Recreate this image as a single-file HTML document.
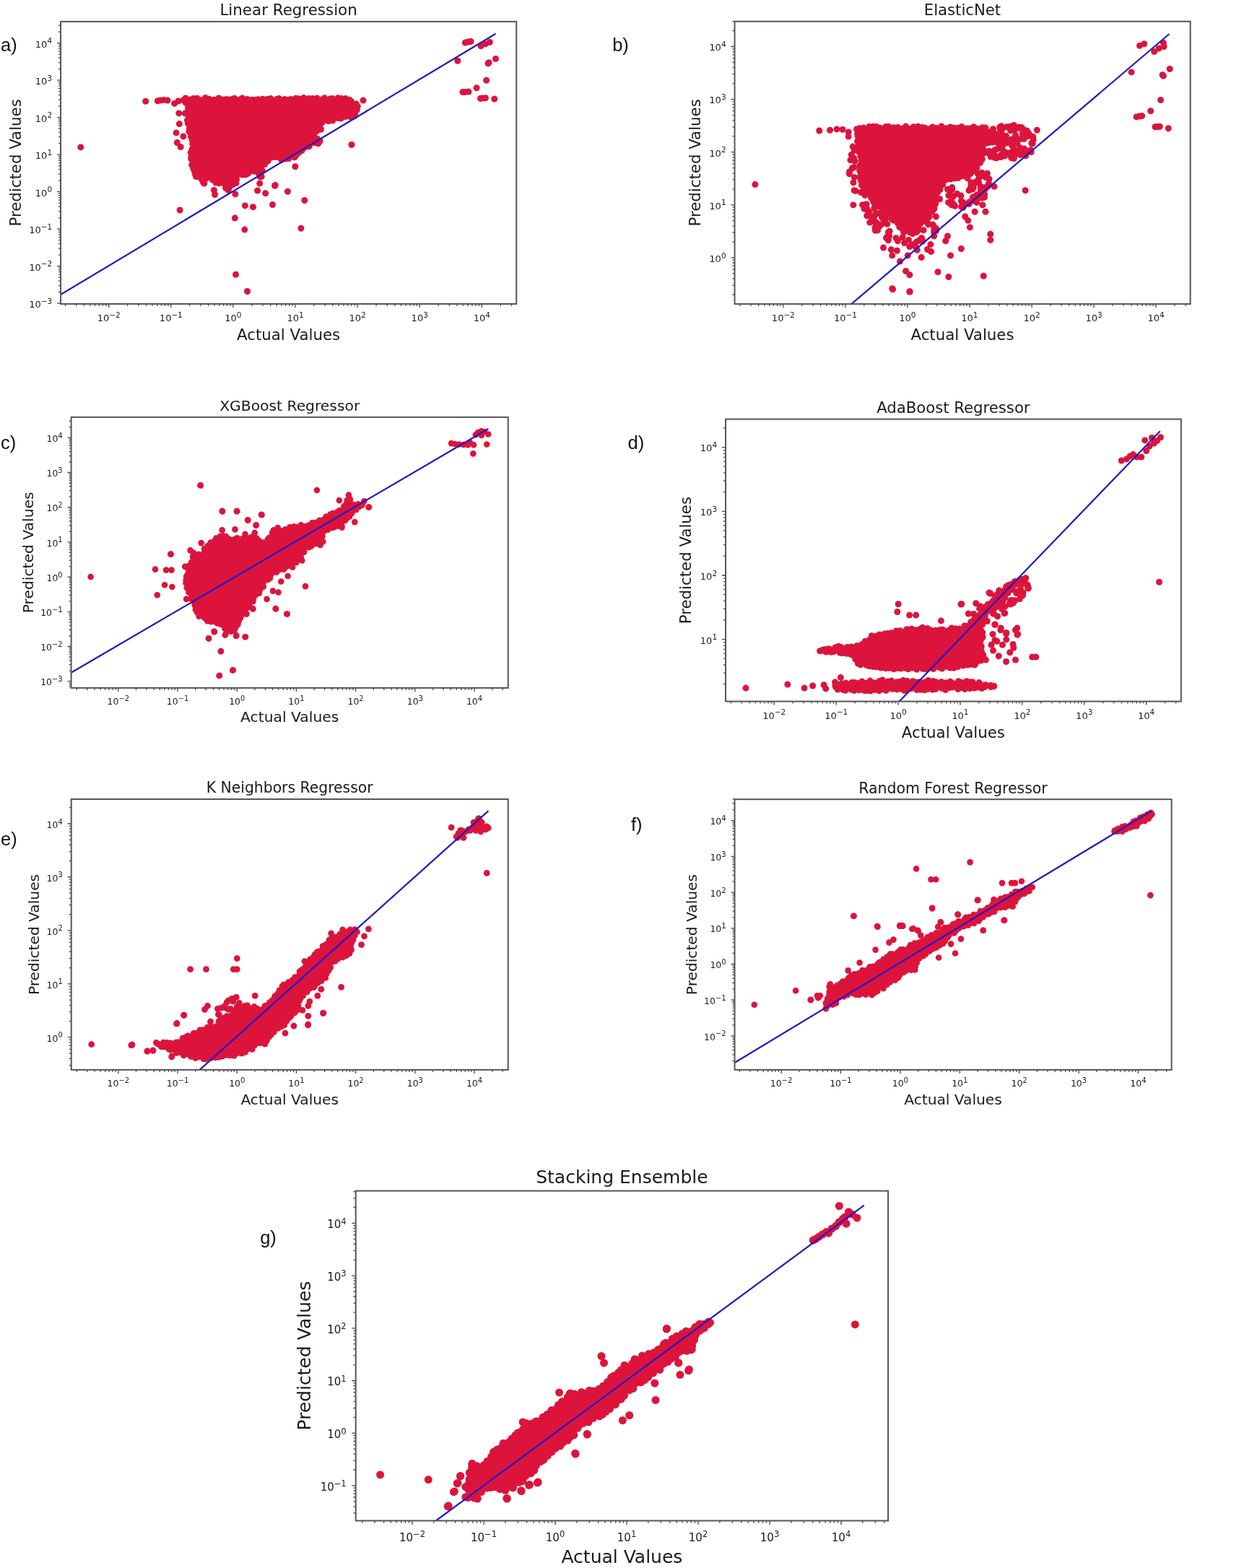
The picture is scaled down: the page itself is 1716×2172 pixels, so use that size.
<!DOCTYPE html>
<html><head><meta charset="utf-8"><style>html,body{margin:0;padding:0;background:#fff;}svg{display:block;}</style></head>
<body>
<svg width="1716" height="2172" viewBox="0 0 1716 2172">
<rect width="1716" height="2172" fill="#fff"/>
<g font-family="'DejaVu Sans', 'Liberation Sans', sans-serif" font-size="13.0" fill="#1a1a1a"><clipPath id="ca"><rect x="84" y="29.9" width="631.2" height="391.1"/></clipPath><g clip-path="url(#ca)" fill="#dc143c"><polygon points="253.7,137.8 258,144 258.2,144.2 258.3,144.5 258.4,144.8 258.5,145 258.6,145.3 258.6,145.6 260.9,181.4 261,181.6 261,181.7 265.7,199.3 265.8,199.6 265.8,199.9 265.8,200.2 265.8,200.5 263.5,219.5 263.5,219.6 263.5,219.7 264.6,230.7 264.7,230.8 264.7,230.8 264.7,230.8 264.7,230.9 269.6,240.6 269.6,240.7 269.6,240.7 269.7,240.8 281.9,254.2 282,254.3 282,254.3 282,254.3 282.1,254.3 282.1,254.3 282.1,254.3 282.1,254.3 282.2,254.3 282.2,254.3 282.2,254.3 282.3,254.3 282.3,254.3 282.3,254.3 282.4,254.3 282.4,254.3 282.4,254.3 282.5,254.2 282.5,254.2 282.5,254.2 282.5,254.2 282.6,254.1 286.3,244.3 286.5,244 286.6,243.7 286.8,243.5 287,243.3 287.2,243 287.5,242.8 287.7,242.7 288,242.5 288.3,242.4 288.6,242.4 288.9,242.3 289.2,242.3 289.5,242.3 289.8,242.3 290.1,242.4 290.4,242.5 290.7,242.6 291,242.8 291.2,243 291.5,243.2 291.7,243.4 291.9,243.6 297.9,252.3 297.9,252.4 298,252.4 298,252.5 298,252.5 298,252.5 298.1,252.5 298.2,252.6 309.8,256.3 310.1,256.4 310.3,256.5 310.6,256.7 310.9,256.9 311.1,257.1 311.3,257.3 311.5,257.6 311.6,257.9 311.8,258.1 311.9,258.4 312.6,261.4 312.7,261.5 312.7,261.6 312.7,261.6 312.7,261.6 312.7,261.6 312.8,261.7 312.8,261.7 312.8,261.7 312.9,261.7 312.9,261.7 312.9,261.7 313,261.7 313,261.7 313,261.7 313.1,261.7 313.1,261.7 313.1,261.7 313.2,261.7 313.3,261.7 326.6,253.1 326.7,253.1 326.7,253 326.8,253 326.8,253 326.8,253 326.8,252.9 326.8,252.9 326.8,252.9 326.8,252.8 326.8,252.8 326.8,252.7 326,244.3 325.9,244 326,243.7 326,243.4 326.1,243.1 326.2,242.8 326.3,242.5 326.5,242.3 326.6,242 326.9,241.8 327.1,241.6 327.3,241.4 327.6,241.2 327.9,241.1 328.2,241 328.5,240.9 328.8,240.9 329.1,240.8 339.9,240.8 340,240.8 340.1,240.8 340.1,240.8 340.1,240.8 340.2,240.8 347.9,236.5 348.1,236.4 348.4,236.2 348.7,236.2 349.1,236.1 349.4,236.1 349.7,236.1 350,236.2 350.3,236.2 350.6,236.3 350.9,236.5 351.2,236.6 351.4,236.8 361.8,245.6 361.9,245.7 361.9,245.7 362,245.7 362,245.7 362,245.7 362.1,245.7 362.1,245.7 362.1,245.7 362.2,245.7 362.2,245.7 362.2,245.7 362.3,245.7 362.3,245.7 362.3,245.7 362.3,245.6 362.4,245.6 362.4,245.6 362.4,245.6 362.4,245.5 362.4,245.5 362.4,245.5 362.4,245.4 362.5,245.3 362.5,232 362.5,231.7 362.5,231.4 362.6,231.1 362.7,230.8 362.9,230.5 363,230.2 363.2,229.9 371.6,220.6 371.8,220.4 372,220.2 372.3,220 372.5,219.9 372.8,219.8 373.1,219.7 383.4,216.7 383.7,216.6 384,216.6 384.3,216.6 384.6,216.6 384.9,216.7 385.2,216.7 385.5,216.9 385.8,217 386.1,217.2 393.2,222.3 393.3,222.4 393.4,222.4 393.4,222.4 393.4,222.4 393.5,222.4 393.5,222.4 393.5,222.4 393.6,222.4 393.6,222.4 393.7,222.4 410.7,216.3 410.9,216.2 410.9,216.2 410.9,216.2 410.9,216.1 411,216.1 416.7,209.2 416.9,209 417.2,208.8 417.4,208.6 417.7,208.5 432.6,200.4 432.9,200.3 433.2,200.2 433.5,200.1 443.9,197.9 444,197.8 444,197.8 444.1,197.8 444.1,197.8 444.1,197.8 444.2,197.7 444.2,197.7 444.2,197.7 444.2,197.7 444.2,197.6 444.2,197.6 444.2,197.6 444.2,197.5 444.2,197.5 444.2,197.5 444.2,197.4 444.2,197.4 444.2,197.4 444.2,197.3 444.1,197.2 436.9,187.2 436.8,187 436.6,186.7 436.5,186.4 436.4,186.1 436.4,185.8 436.3,185.5 436.3,185.2 436.4,184.9 436.5,184.6 436.6,184.3 436.7,184 436.8,183.7 437,183.4 437.2,183.2 437.4,183 437.7,182.8 438,182.6 438.2,182.5 442.8,180.6 442.9,180.5 442.9,180.5 442.9,180.5 442.9,180.4 443,180.4 443,180.4 443,180.4 443,180.3 443,180.3 443,180.3 443.1,180.2 444,171.7 444,171.3 444.1,171 444.2,170.7 444.4,170.5 444.5,170.2 444.7,169.9 445,169.7 445.2,169.5 445.5,169.3 445.7,169.2 446,169 446.3,168.9 453.7,167.1 454,167 470,164.4 470.1,164.3 488.2,162.2 488.3,162.1 488.3,162.1 488.3,162.1 488.4,162.1 488.4,162.1 488.4,162.1 488.5,162 493.3,157.2 493.4,157.1 493.4,157.1 493.4,157 498.3,148.5 498.3,148.4 498.3,148.4 498.3,148.4 498.3,148.3 498.3,148.3 498.3,148.3 498.3,148.2 498.3,148.2 498.3,148.2 498.3,148.1 498.3,148.1 498.3,148.1 498.3,148.1 498.2,148 498.1,148 488.2,140.7 488.2,140.7 483.6,137.3 483.5,137.2 483.4,137.2 483.4,137.2 483.4,137.2 483.3,137.2 483.2,137.1 400,136.7 330,136.7 254,137.1 253.9,137.2 253.8,137.2 253.8,137.2 253.8,137.2 253.7,137.2 253.7,137.2 253.7,137.2 253.7,137.3 253.6,137.3 253.6,137.3 253.6,137.3 253.6,137.4 253.6,137.4 253.6,137.4 253.6,137.5 253.6,137.5 253.6,137.5 253.6,137.6 253.6,137.6 253.6,137.6 253.6,137.7" stroke="#dc143c" stroke-width="2" stroke-linejoin="round"/><circle cx="253.8" cy="138.7" r="4.5"/><circle cx="257.2" cy="142.2" r="4.5"/><circle cx="260.5" cy="149" r="4.5"/><circle cx="259.2" cy="154.9" r="4.5"/><circle cx="261.2" cy="160.4" r="4.5"/><circle cx="259.4" cy="166.6" r="4.5"/><circle cx="260.4" cy="171.3" r="4.5"/><circle cx="262.4" cy="177.8" r="4.5"/><circle cx="261.9" cy="182.6" r="4.5"/><circle cx="264.4" cy="189" r="4.5"/><circle cx="266.2" cy="194" r="4.5"/><circle cx="266.8" cy="199.2" r="4.5"/><circle cx="266" cy="206.6" r="4.5"/><circle cx="264.2" cy="211.3" r="4.5"/><circle cx="264.7" cy="218.2" r="4.5"/><circle cx="264.9" cy="220.4" r="4.5"/><circle cx="265.7" cy="228.5" r="4.5"/><circle cx="267.8" cy="233.5" r="4.5"/><circle cx="269.5" cy="237.6" r="4.5"/><circle cx="271.5" cy="244.5" r="4.5"/><circle cx="276.4" cy="245.4" r="4.5"/><circle cx="279.7" cy="249.1" r="4.5"/><circle cx="281.3" cy="252.2" r="4.5"/><circle cx="286" cy="247.1" r="4.5"/><circle cx="287.7" cy="243.9" r="4.5"/><circle cx="292.8" cy="245.4" r="4.5"/><circle cx="294.3" cy="249" r="4.5"/><circle cx="299" cy="253" r="4.5"/><circle cx="303.7" cy="253.8" r="4.5"/><circle cx="311.7" cy="256.1" r="4.5"/><circle cx="312.6" cy="260.6" r="4.5"/><circle cx="318.4" cy="258.8" r="4.5"/><circle cx="322.7" cy="255.5" r="4.5"/><circle cx="324.3" cy="253.1" r="4.5"/><circle cx="327.6" cy="248.5" r="4.5"/><circle cx="326.3" cy="240.8" r="4.5"/><circle cx="330.6" cy="241.3" r="4.5"/><circle cx="336" cy="242.1" r="4.5"/><circle cx="343.5" cy="240.3" r="4.5"/><circle cx="346.3" cy="237.3" r="4.5"/><circle cx="352.3" cy="237.3" r="4.5"/><circle cx="358.3" cy="240.4" r="4.5"/><circle cx="362.2" cy="244.6" r="4.5"/><circle cx="360.7" cy="242.1" r="4.5"/><circle cx="363.3" cy="236.1" r="4.5"/><circle cx="362.8" cy="228.3" r="4.5"/><circle cx="366.7" cy="227.5" r="4.5"/><circle cx="371.2" cy="222.9" r="4.5"/><circle cx="376.3" cy="217.8" r="4.5"/><circle cx="381" cy="217.5" r="4.5"/><circle cx="386.7" cy="218.1" r="4.5"/><circle cx="390" cy="221.4" r="4.5"/><circle cx="395.9" cy="219.9" r="4.5"/><circle cx="400.1" cy="219.4" r="4.5"/><circle cx="408" cy="217.8" r="4.5"/><circle cx="409.9" cy="215.2" r="4.5"/><circle cx="414" cy="211.4" r="4.5"/><circle cx="418.2" cy="208.5" r="4.5"/><circle cx="422.2" cy="204" r="4.5"/><circle cx="428.2" cy="202.9" r="4.5"/><circle cx="435.6" cy="197.8" r="4.5"/><circle cx="440.7" cy="198.9" r="4.5"/><circle cx="443.2" cy="195.3" r="4.5"/><circle cx="439.4" cy="192.3" r="4.5"/><circle cx="434.9" cy="187" r="4.5"/><circle cx="438.7" cy="181.6" r="4.5"/><circle cx="444.5" cy="179.2" r="4.5"/><circle cx="443" cy="174.3" r="4.5"/><circle cx="446.3" cy="169.5" r="4.5"/><circle cx="450.6" cy="166" r="4.5"/><circle cx="454.9" cy="167.7" r="4.5"/><circle cx="460.8" cy="167" r="4.5"/><circle cx="467.5" cy="163.4" r="4.5"/><circle cx="472.2" cy="164" r="4.5"/><circle cx="478.2" cy="161.5" r="4.5"/><circle cx="485.1" cy="161.9" r="4.5"/><circle cx="491" cy="160.7" r="4.5"/><circle cx="491.7" cy="157.4" r="4.5"/><circle cx="494.2" cy="152.2" r="4.5"/><circle cx="495.2" cy="147.5" r="4.5"/><circle cx="493.3" cy="144.1" r="4.5"/><circle cx="486.5" cy="140.4" r="4.5"/><circle cx="484.3" cy="138.6" r="4.5"/><circle cx="478.8" cy="136.6" r="4.5"/><circle cx="472.8" cy="136.6" r="4.5"/><circle cx="468.1" cy="135.8" r="4.5"/><circle cx="460.1" cy="136.5" r="4.5"/><circle cx="456.8" cy="137.1" r="4.5"/><circle cx="449.5" cy="135.8" r="4.5"/><circle cx="445.6" cy="138.2" r="4.5"/><circle cx="439.1" cy="136.1" r="4.5"/><circle cx="432.8" cy="136.6" r="4.5"/><circle cx="427.7" cy="136.4" r="4.5"/><circle cx="420.7" cy="135.6" r="4.5"/><circle cx="414.1" cy="136.8" r="4.5"/><circle cx="409.6" cy="136.2" r="4.5"/><circle cx="402.8" cy="137.5" r="4.5"/><circle cx="398.1" cy="138.6" r="4.5"/><circle cx="394.3" cy="137.5" r="4.5"/><circle cx="386.3" cy="136.4" r="4.5"/><circle cx="383" cy="137.6" r="4.5"/><circle cx="374.8" cy="136.5" r="4.5"/><circle cx="369.5" cy="137.4" r="4.5"/><circle cx="363.5" cy="137.3" r="4.5"/><circle cx="357.8" cy="137.7" r="4.5"/><circle cx="353.1" cy="138.5" r="4.5"/><circle cx="349.3" cy="138.2" r="4.5"/><circle cx="342.4" cy="137.5" r="4.5"/><circle cx="335.6" cy="136" r="4.5"/><circle cx="331.9" cy="137.9" r="4.5"/><circle cx="324.6" cy="136.3" r="4.5"/><circle cx="320" cy="137.8" r="4.5"/><circle cx="313.6" cy="137.4" r="4.5"/><circle cx="309.4" cy="138" r="4.5"/><circle cx="303.1" cy="136" r="4.5"/><circle cx="296.2" cy="138.3" r="4.5"/><circle cx="289.5" cy="137.3" r="4.5"/><circle cx="284.5" cy="135.6" r="4.5"/><circle cx="280" cy="138.5" r="4.5"/><circle cx="273" cy="136.3" r="4.5"/><circle cx="267.7" cy="136.6" r="4.5"/><circle cx="263.2" cy="137.9" r="4.5"/><circle cx="257" cy="135.9" r="4.5"/><circle cx="201.7" cy="140.3" r="4.5"/><circle cx="218.3" cy="139.7" r="4.5"/><circle cx="222" cy="139" r="4.5"/><circle cx="226.9" cy="138.4" r="4.5"/><circle cx="232" cy="139" r="4.5"/><circle cx="241.6" cy="143.4" r="4.5"/><circle cx="247" cy="140" r="4.5"/><circle cx="247.8" cy="156.9" r="4.5"/><circle cx="256.4" cy="156.9" r="4.5"/><circle cx="248.4" cy="171.6" r="4.5"/><circle cx="244.1" cy="183.9" r="4.5"/><circle cx="253.9" cy="188.9" r="4.5"/><circle cx="245.3" cy="197.5" r="4.5"/><circle cx="250.2" cy="203.6" r="4.5"/><circle cx="270.6" cy="241.8" r="4.5"/><circle cx="282.9" cy="254.1" r="4.5"/><circle cx="298.9" cy="252.3" r="4.5"/><circle cx="296.4" cy="263.4" r="4.5"/><circle cx="297.6" cy="269.5" r="4.5"/><circle cx="313.6" cy="258.4" r="4.5"/><circle cx="316.1" cy="263.4" r="4.5"/><circle cx="327.1" cy="253.5" r="4.5"/><circle cx="325.9" cy="268.9" r="4.5"/><circle cx="340.7" cy="241.8" r="4.5"/><circle cx="360.3" cy="244.9" r="4.5"/><circle cx="359.7" cy="254.1" r="4.5"/><circle cx="356.6" cy="264" r="4.5"/><circle cx="367.7" cy="267.7" r="4.5"/><circle cx="380.6" cy="257.2" r="4.5"/><circle cx="398.4" cy="265.2" r="4.5"/><circle cx="421.8" cy="277.5" r="4.5"/><circle cx="339.4" cy="284.9" r="4.5"/><circle cx="350.5" cy="286.7" r="4.5"/><circle cx="377.5" cy="283.6" r="4.5"/><circle cx="249.1" cy="291" r="4.5"/><circle cx="325.3" cy="302.1" r="4.5"/><circle cx="338.8" cy="318.1" r="4.5"/><circle cx="416.9" cy="316.2" r="4.5"/><circle cx="326.5" cy="380.2" r="4.5"/><circle cx="342.5" cy="403.5" r="4.5"/><circle cx="111.8" cy="203.9" r="4.5"/><circle cx="503" cy="139.1" r="4.5"/><circle cx="487" cy="200.5" r="4.5"/><circle cx="408.9" cy="230.7" r="4.5"/><circle cx="381.2" cy="256.5" r="4.5"/><circle cx="648.4" cy="58" r="4.5"/><circle cx="644.3" cy="59.1" r="4.5"/><circle cx="652" cy="57.5" r="4.5"/><circle cx="666" cy="63.8" r="4.5"/><circle cx="678.3" cy="58.5" r="4.5"/><circle cx="672.4" cy="60.9" r="4.5"/><circle cx="633.8" cy="84.3" r="4.5"/><circle cx="686.5" cy="81.4" r="4.5"/><circle cx="677.1" cy="86.7" r="4.5"/><circle cx="676" cy="87.8" r="4.5"/><circle cx="673.6" cy="111.2" r="4.5"/><circle cx="660.1" cy="121.8" r="4.5"/><circle cx="640.8" cy="127.6" r="4.5"/><circle cx="649" cy="127" r="4.5"/><circle cx="644" cy="127.5" r="4.5"/><circle cx="665.4" cy="136.4" r="4.5"/><circle cx="672.4" cy="135.8" r="4.5"/><circle cx="668" cy="136" r="4.5"/><circle cx="684.7" cy="137" r="4.5"/></g><line x1="84" y1="408.1" x2="686.5" y2="46.8" stroke="#2318c4" stroke-width="2.2" clip-path="url(#ca)"/><path d="M84 420.2h-5M90.5 421v3M84 404.7h-3M105.7 421v3M84 395.6h-3M116.4 421v3M84 389.2h-3M124.8 421v3M84 384.2h-3M131.6 421v3M84 380.1h-3M137.4 421v3M84 376.7h-3M142.4 421v3M84 373.7h-3M146.8 421v3M84 371.1h-3M150.7 421v5M84 368.7h-5M176.6 421v3M84 353.2h-3M191.8 421v3M84 344.1h-3M202.5 421v3M84 337.7h-3M210.9 421v3M84 332.7h-3M217.7 421v3M84 328.6h-3M223.5 421v3M84 325.2h-3M228.5 421v3M84 322.2h-3M232.9 421v3M84 319.6h-3M236.8 421v5M84 317.2h-5M262.7 421v3M84 301.7h-3M277.9 421v3M84 292.6h-3M288.6 421v3M84 286.2h-3M297 421v3M84 281.2h-3M303.8 421v3M84 277.1h-3M309.6 421v3M84 273.7h-3M314.6 421v3M84 270.7h-3M319 421v3M84 268.1h-3M322.9 421v5M84 265.7h-5M348.8 421v3M84 250.2h-3M364 421v3M84 241.1h-3M374.7 421v3M84 234.7h-3M383.1 421v3M84 229.7h-3M389.9 421v3M84 225.6h-3M395.7 421v3M84 222.2h-3M400.7 421v3M84 219.2h-3M405.1 421v3M84 216.6h-3M409 421v5M84 214.2h-5M434.9 421v3M84 198.7h-3M450.1 421v3M84 189.6h-3M460.8 421v3M84 183.2h-3M469.2 421v3M84 178.2h-3M476 421v3M84 174.1h-3M481.8 421v3M84 170.7h-3M486.8 421v3M84 167.7h-3M491.2 421v3M84 165.1h-3M495.1 421v5M84 162.7h-5M521 421v3M84 147.2h-3M536.2 421v3M84 138.1h-3M546.9 421v3M84 131.7h-3M555.3 421v3M84 126.7h-3M562.1 421v3M84 122.6h-3M567.9 421v3M84 119.2h-3M572.9 421v3M84 116.2h-3M577.3 421v3M84 113.6h-3M581.2 421v5M84 111.2h-5M607.1 421v3M84 95.7h-3M622.3 421v3M84 86.6h-3M633 421v3M84 80.2h-3M641.4 421v3M84 75.2h-3M648.2 421v3M84 71.1h-3M654 421v3M84 67.7h-3M659 421v3M84 64.7h-3M663.4 421v3M84 62.1h-3M667.3 421v5M84 59.7h-5M693.2 421v3M84 44.2h-3M708.4 421v3M84 35.1h-3" stroke="#444" stroke-width="1.3" fill="none"/><rect x="84" y="29.9" width="631.2" height="391.1" fill="none" stroke="#555" stroke-width="2"/><text x="150.7" y="445" text-anchor="middle">10<tspan font-size="10.4" dy="-5.3">−2</tspan></text><text x="236.8" y="445" text-anchor="middle">10<tspan font-size="10.4" dy="-5.3">−1</tspan></text><text x="322.9" y="445" text-anchor="middle">10<tspan font-size="10.4" dy="-5.3">0</tspan></text><text x="409" y="445" text-anchor="middle">10<tspan font-size="10.4" dy="-5.3">1</tspan></text><text x="495.1" y="445" text-anchor="middle">10<tspan font-size="10.4" dy="-5.3">2</tspan></text><text x="581.2" y="445" text-anchor="middle">10<tspan font-size="10.4" dy="-5.3">3</tspan></text><text x="667.3" y="445" text-anchor="middle">10<tspan font-size="10.4" dy="-5.3">4</tspan></text><text x="72" y="426.1" text-anchor="end">10<tspan font-size="10.4" dy="-5.3">−3</tspan></text><text x="72" y="374.6" text-anchor="end">10<tspan font-size="10.4" dy="-5.3">−2</tspan></text><text x="72" y="323.1" text-anchor="end">10<tspan font-size="10.4" dy="-5.3">−1</tspan></text><text x="72" y="271.6" text-anchor="end">10<tspan font-size="10.4" dy="-5.3">0</tspan></text><text x="72" y="220" text-anchor="end">10<tspan font-size="10.4" dy="-5.3">1</tspan></text><text x="72" y="168.5" text-anchor="end">10<tspan font-size="10.4" dy="-5.3">2</tspan></text><text x="72" y="117" text-anchor="end">10<tspan font-size="10.4" dy="-5.3">3</tspan></text><text x="72" y="65.5" text-anchor="end">10<tspan font-size="10.4" dy="-5.3">4</tspan></text></g>
<text x="399.6" y="21.2" text-anchor="middle" font-family="'DejaVu Sans', 'Liberation Sans', sans-serif" font-size="21.4" fill="#1a1a1a">Linear Regression</text>
<text x="399.6" y="470.9" text-anchor="middle" font-family="'DejaVu Sans', 'Liberation Sans', sans-serif" font-size="21.3" fill="#1a1a1a">Actual Values</text>
<text transform="translate(29.1,225.4) rotate(-90)" text-anchor="middle" font-family="'DejaVu Sans', 'Liberation Sans', sans-serif" font-size="21.3" fill="#1a1a1a">Predicted Values</text>
<text x="1" y="71.1" font-family="'Liberation Sans', Arial, sans-serif" font-size="25.5" fill="#111">a)</text>
<g font-family="'DejaVu Sans', 'Liberation Sans', sans-serif" font-size="13.0" fill="#1a1a1a"><clipPath id="cb"><rect x="1017.5" y="29.7" width="631.1" height="391.4"/></clipPath><g clip-path="url(#cb)" fill="#dc143c"><polygon points="1187.5,176.3 1187.5,187.6 1191.6,212.7 1191.6,212.9 1191.7,213.2 1191.7,250.4 1199.6,266.1 1216,282.7 1228.7,295.4 1228.9,295.6 1239.3,308 1253.6,320.3 1263.6,325.3 1274.7,312.3 1274.9,312.2 1287.1,299.9 1295.1,283.8 1299.3,267.2 1299.4,266.9 1299.6,266.6 1308,249.8 1308.1,249.5 1308.3,249.3 1308.5,249.1 1308.7,248.8 1308.9,248.7 1309.2,248.5 1309.5,248.3 1309.7,248.2 1310,248.1 1310.3,248.1 1337.1,244 1350.7,236.2 1360.4,218.7 1362.5,192 1362.5,191.6 1362.6,191.2 1367.5,176.3" stroke="#dc143c" stroke-width="2" stroke-linejoin="round"/><circle cx="1186.4" cy="178.9" r="4.5"/><circle cx="1187.6" cy="184.9" r="4.5"/><circle cx="1187.9" cy="188.5" r="4.5"/><circle cx="1187.5" cy="195.8" r="4.5"/><circle cx="1190.7" cy="199.4" r="4.5"/><circle cx="1190" cy="205.4" r="4.5"/><circle cx="1192.5" cy="209.8" r="4.5"/><circle cx="1191.7" cy="216.1" r="4.5"/><circle cx="1192.9" cy="222.1" r="4.5"/><circle cx="1190.9" cy="229.2" r="4.5"/><circle cx="1193.4" cy="235.4" r="4.5"/><circle cx="1192.2" cy="238.6" r="4.5"/><circle cx="1192.3" cy="244.1" r="4.5"/><circle cx="1192.4" cy="250.3" r="4.5"/><circle cx="1193.4" cy="256.6" r="4.5"/><circle cx="1197.7" cy="261.9" r="4.5"/><circle cx="1200.8" cy="265.7" r="4.5"/><circle cx="1203.2" cy="268.8" r="4.5"/><circle cx="1208" cy="275.7" r="4.5"/><circle cx="1212.3" cy="277.9" r="4.5"/><circle cx="1216.3" cy="282.4" r="4.5"/><circle cx="1217.8" cy="286.3" r="4.5"/><circle cx="1223.5" cy="291.3" r="4.5"/><circle cx="1228.3" cy="295.2" r="4.5"/><circle cx="1231.9" cy="296.2" r="4.5"/><circle cx="1235.2" cy="303.5" r="4.5"/><circle cx="1237.8" cy="305.3" r="4.5"/><circle cx="1243.4" cy="309.1" r="4.5"/><circle cx="1245.8" cy="314.6" r="4.5"/><circle cx="1252.9" cy="317.8" r="4.5"/><circle cx="1254.6" cy="319.9" r="4.5"/><circle cx="1260.3" cy="322" r="4.5"/><circle cx="1264.1" cy="323.7" r="4.5"/><circle cx="1269.1" cy="320.3" r="4.5"/><circle cx="1271.6" cy="314.1" r="4.5"/><circle cx="1275" cy="309.4" r="4.5"/><circle cx="1277.7" cy="306.7" r="4.5"/><circle cx="1283.3" cy="304.1" r="4.5"/><circle cx="1287.2" cy="299.9" r="4.5"/><circle cx="1291" cy="293.3" r="4.5"/><circle cx="1293.8" cy="288.8" r="4.5"/><circle cx="1295.7" cy="282.2" r="4.5"/><circle cx="1295" cy="276.9" r="4.5"/><circle cx="1296.4" cy="272.8" r="4.5"/><circle cx="1298.4" cy="266.8" r="4.5"/><circle cx="1301.8" cy="262.7" r="4.5"/><circle cx="1305.6" cy="256.1" r="4.5"/><circle cx="1305.2" cy="251.7" r="4.5"/><circle cx="1309.8" cy="249.2" r="4.5"/><circle cx="1316.1" cy="248.1" r="4.5"/><circle cx="1322.2" cy="247" r="4.5"/><circle cx="1327.2" cy="246.4" r="4.5"/><circle cx="1332.5" cy="243.7" r="4.5"/><circle cx="1337.3" cy="243.8" r="4.5"/><circle cx="1343.9" cy="240.9" r="4.5"/><circle cx="1349.4" cy="237.1" r="4.5"/><circle cx="1352.9" cy="233.1" r="4.5"/><circle cx="1352.8" cy="229.1" r="4.5"/><circle cx="1357.7" cy="225.2" r="4.5"/><circle cx="1360.3" cy="220.5" r="4.5"/><circle cx="1361" cy="213.1" r="4.5"/><circle cx="1361.6" cy="206.8" r="4.5"/><circle cx="1361.2" cy="202.8" r="4.5"/><circle cx="1360.4" cy="195.7" r="4.5"/><circle cx="1363.7" cy="190.9" r="4.5"/><circle cx="1364.2" cy="185.3" r="4.5"/><circle cx="1364.3" cy="179.6" r="4.5"/><circle cx="1364.8" cy="177" r="4.5"/><circle cx="1360.6" cy="176.7" r="4.5"/><circle cx="1354" cy="178.3" r="4.5"/><circle cx="1348.5" cy="175.8" r="4.5"/><circle cx="1342.7" cy="177.9" r="4.5"/><circle cx="1338.6" cy="178" r="4.5"/><circle cx="1331.8" cy="175.5" r="4.5"/><circle cx="1326.1" cy="177.4" r="4.5"/><circle cx="1320.9" cy="177" r="4.5"/><circle cx="1316.1" cy="176.1" r="4.5"/><circle cx="1310.5" cy="177.7" r="4.5"/><circle cx="1303.8" cy="175" r="4.5"/><circle cx="1297" cy="177.5" r="4.5"/><circle cx="1291.5" cy="175.9" r="4.5"/><circle cx="1288" cy="178.4" r="4.5"/><circle cx="1281.1" cy="177.3" r="4.5"/><circle cx="1277.4" cy="176.6" r="4.5"/><circle cx="1271.5" cy="175.3" r="4.5"/><circle cx="1265.1" cy="175.8" r="4.5"/><circle cx="1258.5" cy="178.3" r="4.5"/><circle cx="1254.4" cy="175.1" r="4.5"/><circle cx="1249.3" cy="178.2" r="4.5"/><circle cx="1243.5" cy="176.5" r="4.5"/><circle cx="1237.9" cy="176.8" r="4.5"/><circle cx="1230.7" cy="175.4" r="4.5"/><circle cx="1226.8" cy="175.6" r="4.5"/><circle cx="1218.9" cy="177.2" r="4.5"/><circle cx="1214.1" cy="175.6" r="4.5"/><circle cx="1209.1" cy="175.3" r="4.5"/><circle cx="1203.9" cy="175.5" r="4.5"/><circle cx="1196" cy="177.1" r="4.5"/><circle cx="1190.5" cy="177.8" r="4.5"/><circle cx="1375.4" cy="196.9" r="4.5"/><circle cx="1430.1" cy="198.9" r="4.5"/><circle cx="1385.2" cy="216.7" r="4.5"/><circle cx="1429.3" cy="199.1" r="4.5"/><circle cx="1407.9" cy="212.4" r="4.5"/><circle cx="1373.2" cy="212.1" r="4.5"/><circle cx="1387" cy="174.7" r="4.5"/><circle cx="1391.3" cy="210.4" r="4.5"/><circle cx="1405.1" cy="194" r="4.5"/><circle cx="1389.6" cy="177.4" r="4.5"/><circle cx="1414.7" cy="176.5" r="4.5"/><circle cx="1404.4" cy="217.9" r="4.5"/><circle cx="1383" cy="205.2" r="4.5"/><circle cx="1423" cy="183.5" r="4.5"/><circle cx="1403" cy="177.3" r="4.5"/><circle cx="1404.4" cy="207.1" r="4.5"/><circle cx="1399.4" cy="175.2" r="4.5"/><circle cx="1384.1" cy="186.3" r="4.5"/><circle cx="1416.6" cy="185.3" r="4.5"/><circle cx="1376.6" cy="184.4" r="4.5"/><circle cx="1400.7" cy="215.4" r="4.5"/><circle cx="1367" cy="210.5" r="4.5"/><circle cx="1431.2" cy="193.6" r="4.5"/><circle cx="1399.8" cy="211.3" r="4.5"/><circle cx="1391.5" cy="216.1" r="4.5"/><circle cx="1369.5" cy="184.3" r="4.5"/><circle cx="1383.8" cy="186.3" r="4.5"/><circle cx="1404.3" cy="219.6" r="4.5"/><circle cx="1420.6" cy="215.8" r="4.5"/><circle cx="1390.9" cy="191.6" r="4.5"/><circle cx="1385.1" cy="176" r="4.5"/><circle cx="1394.6" cy="175.8" r="4.5"/><circle cx="1397.6" cy="195.9" r="4.5"/><circle cx="1405" cy="192.2" r="4.5"/><circle cx="1386" cy="217.5" r="4.5"/><circle cx="1400.9" cy="193.1" r="4.5"/><circle cx="1411.3" cy="176.2" r="4.5"/><circle cx="1381.3" cy="197.3" r="4.5"/><circle cx="1418.7" cy="206.1" r="4.5"/><circle cx="1386.4" cy="199.8" r="4.5"/><circle cx="1366" cy="211.2" r="4.5"/><circle cx="1369.2" cy="209.4" r="4.5"/><circle cx="1389.3" cy="193.4" r="4.5"/><circle cx="1427.2" cy="207.7" r="4.5"/><circle cx="1371.8" cy="182.5" r="4.5"/><circle cx="1377.6" cy="218.2" r="4.5"/><circle cx="1400.7" cy="211.2" r="4.5"/><circle cx="1399.5" cy="194.5" r="4.5"/><circle cx="1390.2" cy="210.9" r="4.5"/><circle cx="1423.9" cy="188.6" r="4.5"/><circle cx="1368.8" cy="211.9" r="4.5"/><circle cx="1409.1" cy="208.7" r="4.5"/><circle cx="1406.6" cy="187.6" r="4.5"/><circle cx="1409.3" cy="212.4" r="4.5"/><circle cx="1380.8" cy="206.4" r="4.5"/><circle cx="1382.3" cy="189.9" r="4.5"/><circle cx="1371.7" cy="189.1" r="4.5"/><circle cx="1417.8" cy="179.4" r="4.5"/><circle cx="1385" cy="182.6" r="4.5"/><circle cx="1430.6" cy="189.2" r="4.5"/><circle cx="1380.3" cy="218.9" r="4.5"/><circle cx="1372.2" cy="197.1" r="4.5"/><circle cx="1413.1" cy="214.5" r="4.5"/><circle cx="1393.4" cy="188.2" r="4.5"/><circle cx="1384.7" cy="176.8" r="4.5"/><circle cx="1393.6" cy="211.4" r="4.5"/><circle cx="1372.1" cy="217.1" r="4.5"/><circle cx="1377.8" cy="215.1" r="4.5"/><circle cx="1389.7" cy="209.1" r="4.5"/><circle cx="1377.6" cy="192.7" r="4.5"/><circle cx="1400.9" cy="218.7" r="4.5"/><circle cx="1420.7" cy="184.1" r="4.5"/><circle cx="1388.8" cy="201.2" r="4.5"/><circle cx="1428.8" cy="198.3" r="4.5"/><circle cx="1405.3" cy="179.9" r="4.5"/><circle cx="1388.3" cy="199.6" r="4.5"/><circle cx="1380.7" cy="190.1" r="4.5"/><circle cx="1369.7" cy="191.3" r="4.5"/><circle cx="1386.8" cy="190.3" r="4.5"/><circle cx="1394" cy="198.1" r="4.5"/><circle cx="1371.9" cy="191" r="4.5"/><circle cx="1370.2" cy="187.7" r="4.5"/><circle cx="1406" cy="190.5" r="4.5"/><circle cx="1385.6" cy="198.1" r="4.5"/><circle cx="1380.3" cy="187.3" r="4.5"/><circle cx="1370.4" cy="209.7" r="4.5"/><circle cx="1425.2" cy="185.2" r="4.5"/><circle cx="1410.9" cy="177.4" r="4.5"/><circle cx="1399.6" cy="180.9" r="4.5"/><circle cx="1386.2" cy="191" r="4.5"/><circle cx="1403.9" cy="218.4" r="4.5"/><circle cx="1404.3" cy="173.5" r="4.5"/><circle cx="1367.4" cy="198" r="4.5"/><circle cx="1401.6" cy="201.9" r="4.5"/><circle cx="1418.4" cy="192.4" r="4.5"/><circle cx="1375.5" cy="178.7" r="4.5"/><circle cx="1386" cy="215.1" r="4.5"/><circle cx="1402.7" cy="179.9" r="4.5"/><circle cx="1376.2" cy="192.8" r="4.5"/><circle cx="1399.3" cy="178" r="4.5"/><circle cx="1417" cy="212.5" r="4.5"/><circle cx="1408.8" cy="199" r="4.5"/><circle cx="1416.2" cy="184.8" r="4.5"/><circle cx="1423.1" cy="183.5" r="4.5"/><circle cx="1392.4" cy="213.2" r="4.5"/><circle cx="1412.8" cy="204.8" r="4.5"/><circle cx="1419.7" cy="211.1" r="4.5"/><circle cx="1377.1" cy="208.3" r="4.5"/><circle cx="1400.6" cy="217.5" r="4.5"/><circle cx="1413.5" cy="192.5" r="4.5"/><circle cx="1418.4" cy="190" r="4.5"/><circle cx="1428.2" cy="210.6" r="4.5"/><circle cx="1387.1" cy="184.5" r="4.5"/><circle cx="1385.7" cy="217.4" r="4.5"/><circle cx="1389.6" cy="194.3" r="4.5"/><circle cx="1422.4" cy="181.3" r="4.5"/><circle cx="1320.9" cy="283" r="4.5"/><circle cx="1367.4" cy="240.2" r="4.5"/><circle cx="1330.9" cy="271.1" r="4.5"/><circle cx="1331.5" cy="286.3" r="4.5"/><circle cx="1320.5" cy="271.8" r="4.5"/><circle cx="1352.5" cy="253.1" r="4.5"/><circle cx="1346.9" cy="262.1" r="4.5"/><circle cx="1325.6" cy="268.5" r="4.5"/><circle cx="1348.3" cy="259.7" r="4.5"/><circle cx="1363.8" cy="259.8" r="4.5"/><circle cx="1316.5" cy="264.4" r="4.5"/><circle cx="1355.5" cy="247.1" r="4.5"/><circle cx="1334.7" cy="281.2" r="4.5"/><circle cx="1370" cy="248" r="4.5"/><circle cx="1344.8" cy="252.7" r="4.5"/><circle cx="1322.5" cy="285.3" r="4.5"/><circle cx="1348.4" cy="277.4" r="4.5"/><circle cx="1360.2" cy="243.8" r="4.5"/><circle cx="1342.7" cy="279.7" r="4.5"/><circle cx="1358.3" cy="262.8" r="4.5"/><circle cx="1318.6" cy="259.6" r="4.5"/><circle cx="1351.9" cy="279.4" r="4.5"/><circle cx="1354.3" cy="240.8" r="4.5"/><circle cx="1345.2" cy="255.9" r="4.5"/><circle cx="1355.6" cy="253.1" r="4.5"/><circle cx="1359.7" cy="274.3" r="4.5"/><circle cx="1353" cy="270" r="4.5"/><circle cx="1333.9" cy="287.4" r="4.5"/><circle cx="1359.9" cy="239.3" r="4.5"/><circle cx="1365.4" cy="245.8" r="4.5"/><circle cx="1369.4" cy="254.2" r="4.5"/><circle cx="1344.4" cy="259.8" r="4.5"/><circle cx="1313.8" cy="270.7" r="4.5"/><circle cx="1318.7" cy="262.3" r="4.5"/><circle cx="1354.1" cy="273.6" r="4.5"/><circle cx="1339.9" cy="246.7" r="4.5"/><circle cx="1350.6" cy="277" r="4.5"/><circle cx="1342.2" cy="282.5" r="4.5"/><circle cx="1351.2" cy="271.7" r="4.5"/><circle cx="1358.4" cy="258.5" r="4.5"/><circle cx="1363.4" cy="273.2" r="4.5"/><circle cx="1313.5" cy="280.4" r="4.5"/><circle cx="1350.8" cy="274.6" r="4.5"/><circle cx="1335.2" cy="283.1" r="4.5"/><circle cx="1353" cy="280.4" r="4.5"/><circle cx="1364.6" cy="261.8" r="4.5"/><circle cx="1367.7" cy="258.6" r="4.5"/><circle cx="1351.1" cy="252" r="4.5"/><circle cx="1228.7" cy="310.2" r="4.5"/><circle cx="1213" cy="296.4" r="4.5"/><circle cx="1213.5" cy="313.3" r="4.5"/><circle cx="1212.5" cy="308.7" r="4.5"/><circle cx="1210.9" cy="300.1" r="4.5"/><circle cx="1205.1" cy="299.5" r="4.5"/><circle cx="1222.2" cy="302.1" r="4.5"/><circle cx="1212.1" cy="315.2" r="4.5"/><circle cx="1217.6" cy="313.8" r="4.5"/><circle cx="1212.3" cy="319.3" r="4.5"/><circle cx="1217.8" cy="311.6" r="4.5"/><circle cx="1218" cy="295.8" r="4.5"/><circle cx="1226.8" cy="302.4" r="4.5"/><circle cx="1226.2" cy="307.8" r="4.5"/><circle cx="1220.1" cy="294.7" r="4.5"/><circle cx="1220.5" cy="296.4" r="4.5"/><circle cx="1200.3" cy="288.2" r="4.5"/><circle cx="1213.7" cy="308" r="4.5"/><circle cx="1221.4" cy="300.9" r="4.5"/><circle cx="1201.3" cy="290.7" r="4.5"/><circle cx="1185.4" cy="204.5" r="4.5"/><circle cx="1195.7" cy="264.2" r="4.5"/><circle cx="1182.8" cy="231.8" r="4.5"/><circle cx="1195" cy="252.6" r="4.5"/><circle cx="1194.5" cy="283.8" r="4.5"/><circle cx="1183.9" cy="223.2" r="4.5"/><circle cx="1200.6" cy="290.4" r="4.5"/><circle cx="1213.1" cy="285" r="4.5"/><circle cx="1192.4" cy="266.6" r="4.5"/><circle cx="1208.2" cy="305.1" r="4.5"/><circle cx="1179.2" cy="214.4" r="4.5"/><circle cx="1199.1" cy="252.6" r="4.5"/><circle cx="1200" cy="282.8" r="4.5"/><circle cx="1190.7" cy="245.3" r="4.5"/><circle cx="1197.3" cy="223.3" r="4.5"/><circle cx="1206.5" cy="273.4" r="4.5"/><circle cx="1214.2" cy="309.3" r="4.5"/><circle cx="1176.7" cy="237.8" r="4.5"/><circle cx="1196.8" cy="263.6" r="4.5"/><circle cx="1211.4" cy="273.2" r="4.5"/><circle cx="1183.3" cy="245.8" r="4.5"/><circle cx="1196.9" cy="289.1" r="4.5"/><circle cx="1210.1" cy="280.2" r="4.5"/><circle cx="1203.6" cy="292.9" r="4.5"/><circle cx="1206.9" cy="262.6" r="4.5"/><circle cx="1190.6" cy="236" r="4.5"/><circle cx="1177.9" cy="221.7" r="4.5"/><circle cx="1181.9" cy="252.9" r="4.5"/><circle cx="1225.2" cy="307.1" r="4.5"/><circle cx="1181.1" cy="203.1" r="4.5"/><circle cx="1185" cy="264.4" r="4.5"/><circle cx="1210.8" cy="288" r="4.5"/><circle cx="1189.1" cy="209.7" r="4.5"/><circle cx="1258.9" cy="310.6" r="4.5"/><circle cx="1291.7" cy="311" r="4.5"/><circle cx="1277.6" cy="334.2" r="4.5"/><circle cx="1252.6" cy="336.6" r="4.5"/><circle cx="1267.6" cy="341.5" r="4.5"/><circle cx="1288.8" cy="338.6" r="4.5"/><circle cx="1259.8" cy="341.5" r="4.5"/><circle cx="1269.6" cy="317.1" r="4.5"/><circle cx="1251.6" cy="321.8" r="4.5"/><circle cx="1230.3" cy="332.7" r="4.5"/><circle cx="1243.4" cy="333.7" r="4.5"/><circle cx="1270.2" cy="346.3" r="4.5"/><circle cx="1274.1" cy="332.2" r="4.5"/><circle cx="1293.7" cy="319.9" r="4.5"/><circle cx="1296.4" cy="319.7" r="4.5"/><circle cx="1249.1" cy="316.4" r="4.5"/><circle cx="1250.1" cy="328.7" r="4.5"/><circle cx="1232.1" cy="320.3" r="4.5"/><circle cx="1284.4" cy="345.5" r="4.5"/><circle cx="1227.4" cy="329.6" r="4.5"/><circle cx="1263.9" cy="338.7" r="4.5"/><circle cx="1284.5" cy="304.1" r="4.5"/><circle cx="1273.2" cy="333.3" r="4.5"/><circle cx="1279" cy="318.7" r="4.5"/><circle cx="1276.4" cy="329.7" r="4.5"/><circle cx="1278.7" cy="306.5" r="4.5"/><circle cx="1257.2" cy="305.3" r="4.5"/><circle cx="1266" cy="307.1" r="4.5"/><circle cx="1292.6" cy="312.4" r="4.5"/><circle cx="1228.2" cy="328.6" r="4.5"/><circle cx="1294" cy="316.6" r="4.5"/><circle cx="1183.1" cy="208.5" r="4.5"/><circle cx="1182.6" cy="219.3" r="4.5"/><circle cx="1180.4" cy="232.7" r="4.5"/><circle cx="1176.4" cy="240.8" r="4.5"/><circle cx="1183.1" cy="263.7" r="4.5"/><circle cx="1198" cy="270.4" r="4.5"/><circle cx="1181.8" cy="283.9" r="4.5"/><circle cx="1199.3" cy="283.9" r="4.5"/><circle cx="1200.6" cy="298.7" r="4.5"/><circle cx="1204.7" cy="308.1" r="4.5"/><circle cx="1212.8" cy="294.7" r="4.5"/><circle cx="1215.5" cy="318.9" r="4.5"/><circle cx="1220.8" cy="310.8" r="4.5"/><circle cx="1230.3" cy="321.6" r="4.5"/><circle cx="1231.6" cy="327" r="4.5"/><circle cx="1241" cy="329.7" r="4.5"/><circle cx="1223.5" cy="343.1" r="4.5"/><circle cx="1234.3" cy="345.8" r="4.5"/><circle cx="1242.4" cy="347.2" r="4.5"/><circle cx="1235.7" cy="353.9" r="4.5"/><circle cx="1257.2" cy="353.9" r="4.5"/><circle cx="1246.4" cy="362" r="4.5"/><circle cx="1276.1" cy="356.6" r="4.5"/><circle cx="1289.5" cy="348.5" r="4.5"/><circle cx="1316.5" cy="353.9" r="4.5"/><circle cx="1331.3" cy="344.5" r="4.5"/><circle cx="1254.5" cy="375.5" r="4.5"/><circle cx="1259.9" cy="380.8" r="4.5"/><circle cx="1298.9" cy="376.8" r="4.5"/><circle cx="1313.8" cy="383.5" r="4.5"/><circle cx="1362.2" cy="382.2" r="4.5"/><circle cx="1235.7" cy="399.7" r="4.5"/><circle cx="1259.9" cy="403.7" r="4.5"/><circle cx="1269.3" cy="335.1" r="4.5"/><circle cx="1277.4" cy="332.4" r="4.5"/><circle cx="1272" cy="318.9" r="4.5"/><circle cx="1285.5" cy="310.8" r="4.5"/><circle cx="1296.3" cy="316.2" r="4.5"/><circle cx="1293.6" cy="321.6" r="4.5"/><circle cx="1293.6" cy="327" r="4.5"/><circle cx="1296.3" cy="300" r="4.5"/><circle cx="1293.6" cy="289.3" r="4.5"/><circle cx="1312.4" cy="327" r="4.5"/><circle cx="1309.7" cy="333.7" r="4.5"/><circle cx="1336.7" cy="300" r="4.5"/><circle cx="1340.7" cy="305.4" r="4.5"/><circle cx="1343.4" cy="314.9" r="4.5"/><circle cx="1350.1" cy="293.3" r="4.5"/><circle cx="1364.9" cy="293.3" r="4.5"/><circle cx="1334" cy="283.9" r="4.5"/><circle cx="1350.1" cy="278.5" r="4.5"/><circle cx="1360.9" cy="283.9" r="4.5"/><circle cx="1363.6" cy="269.1" r="4.5"/><circle cx="1358.2" cy="265" r="4.5"/><circle cx="1377" cy="258.3" r="4.5"/><circle cx="1369" cy="257" r="4.5"/><circle cx="1342" cy="263.7" r="4.5"/><circle cx="1317.8" cy="278.5" r="4.5"/><circle cx="1312.4" cy="262.3" r="4.5"/><circle cx="1371.7" cy="324.3" r="4.5"/><circle cx="1371.7" cy="332.4" r="4.5"/><circle cx="1420.1" cy="263.7" r="4.5"/><circle cx="1436.3" cy="180.2" r="4.5"/><circle cx="1045.8" cy="255.6" r="4.5"/><circle cx="1134.7" cy="181" r="4.5"/><circle cx="1149.5" cy="180.2" r="4.5"/><circle cx="1158.9" cy="178.9" r="4.5"/><circle cx="1167" cy="179.4" r="4.5"/><circle cx="1175.1" cy="182.9" r="4.5"/><circle cx="1175.1" cy="189.1" r="4.5"/><circle cx="1317.8" cy="283.9" r="4.5"/><circle cx="1301.6" cy="275.8" r="4.5"/><circle cx="1269.3" cy="321.6" r="4.5"/><circle cx="1258.5" cy="332.4" r="4.5"/><circle cx="1282.8" cy="300" r="4.5"/><circle cx="1331.3" cy="278.5" r="4.5"/><circle cx="1347.4" cy="273.1" r="4.5"/><circle cx="1236.5" cy="400.7" r="4.5"/><circle cx="1260" cy="404.2" r="4.5"/><circle cx="1578.4" cy="63.2" r="4.5"/><circle cx="1584.7" cy="60.7" r="4.5"/><circle cx="1598.6" cy="71.5" r="4.5"/><circle cx="1605" cy="67" r="4.5"/><circle cx="1611.3" cy="59.4" r="4.5"/><circle cx="1612" cy="64.5" r="4.5"/><circle cx="1567" cy="99.9" r="4.5"/><circle cx="1620.1" cy="95.5" r="4.5"/><circle cx="1610" cy="103.7" r="4.5"/><circle cx="1611.3" cy="105" r="4.5"/><circle cx="1607.5" cy="138.5" r="4.5"/><circle cx="1593.6" cy="153.7" r="4.5"/><circle cx="1574" cy="161.9" r="4.5"/><circle cx="1581.6" cy="160.6" r="4.5"/><circle cx="1578" cy="161" r="4.5"/><circle cx="1599.9" cy="175.8" r="4.5"/><circle cx="1606.2" cy="175.2" r="4.5"/><circle cx="1603" cy="175.5" r="4.5"/><circle cx="1618.2" cy="177.7" r="4.5"/></g><line x1="1179.2" y1="421.1" x2="1619.5" y2="47" stroke="#2318c4" stroke-width="2.2" clip-path="url(#cb)"/><path d="M1024.7 421.1v3M1039.9 421.1v3M1050.6 421.1v3M1058.9 421.1v3M1065.8 421.1v3M1071.5 421.1v3M1076.5 421.1v3M1080.9 421.1v3M1084.8 421.1v5M1110.7 421.1v3M1125.9 421.1v3M1136.6 421.1v3M1145 421.1v3M1151.8 421.1v3M1157.5 421.1v3M1162.5 421.1v3M1166.9 421.1v3M1170.9 421.1v5M1196.8 421.1v3M1017.5 408h-3M1211.9 421.1v3M1017.5 395.1h-3M1222.7 421.1v3M1017.5 386h-3M1231 421.1v3M1017.5 378.9h-3M1237.8 421.1v3M1017.5 373.1h-3M1243.6 421.1v3M1017.5 368.2h-3M1248.6 421.1v3M1017.5 364h-3M1253 421.1v3M1017.5 360.2h-3M1256.9 421.1v5M1017.5 356.9h-5M1282.8 421.1v3M1017.5 334.9h-3M1297.9 421.1v3M1017.5 322h-3M1308.7 421.1v3M1017.5 312.9h-3M1317 421.1v3M1017.5 305.8h-3M1323.8 421.1v3M1017.5 300h-3M1329.6 421.1v3M1017.5 295.1h-3M1334.6 421.1v3M1017.5 290.9h-3M1339 421.1v3M1017.5 287.1h-3M1342.9 421.1v5M1017.5 283.8h-5M1368.8 421.1v3M1017.5 261.8h-3M1384 421.1v3M1017.5 248.9h-3M1394.7 421.1v3M1017.5 239.8h-3M1403.1 421.1v3M1017.5 232.7h-3M1409.9 421.1v3M1017.5 226.9h-3M1415.6 421.1v3M1017.5 222h-3M1420.6 421.1v3M1017.5 217.8h-3M1425 421.1v3M1017.5 214h-3M1429 421.1v5M1017.5 210.7h-5M1454.9 421.1v3M1017.5 188.7h-3M1470 421.1v3M1017.5 175.8h-3M1480.8 421.1v3M1017.5 166.7h-3M1489.1 421.1v3M1017.5 159.6h-3M1495.9 421.1v3M1017.5 153.8h-3M1501.7 421.1v3M1017.5 148.9h-3M1506.7 421.1v3M1017.5 144.7h-3M1511.1 421.1v3M1017.5 140.9h-3M1515 421.1v5M1017.5 137.6h-5M1540.9 421.1v3M1017.5 115.6h-3M1556 421.1v3M1017.5 102.7h-3M1566.8 421.1v3M1017.5 93.6h-3M1575.1 421.1v3M1017.5 86.5h-3M1581.9 421.1v3M1017.5 80.7h-3M1587.7 421.1v3M1017.5 75.8h-3M1592.7 421.1v3M1017.5 71.6h-3M1597.1 421.1v3M1017.5 67.8h-3M1601 421.1v5M1017.5 64.5h-5M1626.9 421.1v3M1017.5 42.5h-3M1642.1 421.1v3M1017.5 29.6h-3" stroke="#444" stroke-width="1.3" fill="none"/><rect x="1017.5" y="29.7" width="631.1" height="391.4" fill="none" stroke="#555" stroke-width="2"/><text x="1084.8" y="445.1" text-anchor="middle">10<tspan font-size="10.4" dy="-5.3">−2</tspan></text><text x="1170.9" y="445.1" text-anchor="middle">10<tspan font-size="10.4" dy="-5.3">−1</tspan></text><text x="1256.9" y="445.1" text-anchor="middle">10<tspan font-size="10.4" dy="-5.3">0</tspan></text><text x="1342.9" y="445.1" text-anchor="middle">10<tspan font-size="10.4" dy="-5.3">1</tspan></text><text x="1429" y="445.1" text-anchor="middle">10<tspan font-size="10.4" dy="-5.3">2</tspan></text><text x="1515" y="445.1" text-anchor="middle">10<tspan font-size="10.4" dy="-5.3">3</tspan></text><text x="1601" y="445.1" text-anchor="middle">10<tspan font-size="10.4" dy="-5.3">4</tspan></text><text x="1005.5" y="362.8" text-anchor="end">10<tspan font-size="10.4" dy="-5.3">0</tspan></text><text x="1005.5" y="289.6" text-anchor="end">10<tspan font-size="10.4" dy="-5.3">1</tspan></text><text x="1005.5" y="216.5" text-anchor="end">10<tspan font-size="10.4" dy="-5.3">2</tspan></text><text x="1005.5" y="143.4" text-anchor="end">10<tspan font-size="10.4" dy="-5.3">3</tspan></text><text x="1005.5" y="70.3" text-anchor="end">10<tspan font-size="10.4" dy="-5.3">4</tspan></text></g>
<text x="1333" y="21" text-anchor="middle" font-family="'DejaVu Sans', 'Liberation Sans', sans-serif" font-size="21.2" fill="#1a1a1a">ElasticNet</text>
<text x="1333" y="470.6" text-anchor="middle" font-family="'DejaVu Sans', 'Liberation Sans', sans-serif" font-size="21.3" fill="#1a1a1a">Actual Values</text>
<text transform="translate(969.8,225.4) rotate(-90)" text-anchor="middle" font-family="'DejaVu Sans', 'Liberation Sans', sans-serif" font-size="21.3" fill="#1a1a1a">Predicted Values</text>
<text x="848.2" y="71.1" font-family="'Liberation Sans', Arial, sans-serif" font-size="25.5" fill="#111">b)</text>
<g font-family="'DejaVu Sans', 'Liberation Sans', sans-serif" font-size="12.4" fill="#1a1a1a"><clipPath id="cc"><rect x="98.6" y="577.9" width="605.1" height="375"/></clipPath><g clip-path="url(#cc)" fill="#dc143c"><polygon points="259.2,798 259.2,798.3 259.2,798.6 259.1,798.9 259,799.2 258.9,799.4 258.7,799.7 255.8,804 260.9,817.5 268.3,836.2 275.4,852.1 287.4,858.9 300.1,862.6 300.4,862.6 300.6,862.8 300.9,862.9 301.1,863 315.5,873.8 324,875.3 330.3,864.2 335.8,847.6 335.9,847.4 336,847.1 336.2,846.8 336.4,846.6 336.6,846.4 336.8,846.2 337.1,846 345.8,840.8 352.9,828.4 353,828.1 353.2,827.9 362.3,817.1 365.8,808.1 366,807.9 366.1,807.6 366.3,807.3 366.5,807.1 377.7,795.9 377.9,795.7 378.1,795.5 378.4,795.4 391.5,787.9 391.6,787.8 402.8,782.2 415,775.2 422.1,761.1 422.3,760.8 422.5,760.5 422.7,760.3 422.9,760.1 423.2,759.9 423.4,759.7 423.7,759.6 441.4,752.5 450.3,736.6 450.5,736.3 450.6,736.1 450.9,735.9 451.1,735.7 451.3,735.5 451.6,735.3 451.9,735.2 471.9,728 490.1,709.7 490.3,709.6 502.9,698.6 502.3,698 492.3,698 492,698 491.7,697.9 491.4,697.8 491.1,697.8 490.9,697.6 490.6,697.5 490.4,697.3 483.3,691.6 472.1,704.4 471.9,704.7 471.6,704.8 471.4,705 456.4,714.4 456.2,714.5 455.9,714.6 437.2,722.1 437.1,722.1 422.1,727.8 421.8,727.9 421.5,727.9 406.8,729.8 390.2,735.3 389.9,735.4 389.6,735.4 389.3,735.4 389,735.4 388.8,735.4 388.5,735.3 388.2,735.3 387.9,735.1 387.7,735 387.4,734.9 387.2,734.7 387,734.5 386.8,734.2 383.5,729.9 378.5,736.2 378.4,736.3 367.2,749.4 367,749.6 366.7,749.8 366.5,749.9 366.3,750.1 366,750.2 365.7,750.3 365.5,750.4 365.2,750.4 364.9,750.4 364.6,750.4 364.3,750.4 364.1,750.3 363.8,750.2 363.5,750.1 349.4,743.1 339.1,744.8 338.9,744.8 320.2,746.7 319.9,746.7 319.6,746.7 319.4,746.6 319.1,746.6 318.8,746.5 318.6,746.4 308.9,741.5 299.1,748.1 298.9,748.2 283.3,756.8 281.7,766.7 281.6,766.9 281.5,767.2 281.4,767.5 281.2,767.8 281.1,768 280.9,768.2 280.7,768.4 280.4,768.6 280.2,768.8 279.9,768.9 279.7,769 279.4,769.1 279.1,769.1 278.8,769.2 278.5,769.2 278.2,769.1 277.9,769.1 267.4,766.3 266.7,775.7 266.7,776 266.6,776.3 266.5,776.6 266.4,776.9 266.2,777.2 266.1,777.4 259.2,786" stroke="#dc143c" stroke-width="2" stroke-linejoin="round"/><circle cx="258.1" cy="798.5" r="4.3"/><circle cx="257.7" cy="803.8" r="4.3"/><circle cx="257.5" cy="807.6" r="4.3"/><circle cx="258.8" cy="814.3" r="4.3"/><circle cx="261.4" cy="820.2" r="4.3"/><circle cx="264.7" cy="823.6" r="4.3"/><circle cx="264.3" cy="829.2" r="4.3"/><circle cx="267.5" cy="833" r="4.3"/><circle cx="269.7" cy="838.2" r="4.3"/><circle cx="270.9" cy="844.5" r="4.3"/><circle cx="273.1" cy="848.2" r="4.3"/><circle cx="275.6" cy="853.6" r="4.3"/><circle cx="283.1" cy="855.6" r="4.3"/><circle cx="287.2" cy="860.2" r="4.3"/><circle cx="292.2" cy="861.1" r="4.3"/><circle cx="298.3" cy="861.5" r="4.3"/><circle cx="301.2" cy="863.5" r="4.3"/><circle cx="305.9" cy="864.9" r="4.3"/><circle cx="311.3" cy="870.8" r="4.3"/><circle cx="315.9" cy="872" r="4.3"/><circle cx="319.8" cy="874.8" r="4.3"/><circle cx="324.4" cy="873.8" r="4.3"/><circle cx="326.1" cy="869.4" r="4.3"/><circle cx="329.3" cy="865.2" r="4.3"/><circle cx="330.7" cy="860.4" r="4.3"/><circle cx="333.1" cy="855.9" r="4.3"/><circle cx="335.2" cy="851.1" r="4.3"/><circle cx="339.1" cy="846.2" r="4.3"/><circle cx="341.6" cy="842.7" r="4.3"/><circle cx="345.8" cy="839.8" r="4.3"/><circle cx="350.3" cy="833.3" r="4.3"/><circle cx="351.1" cy="829.2" r="4.3"/><circle cx="354.6" cy="823.7" r="4.3"/><circle cx="358.9" cy="821.7" r="4.3"/><circle cx="360.3" cy="816.8" r="4.3"/><circle cx="364.8" cy="812.6" r="4.3"/><circle cx="365.3" cy="805.9" r="4.3"/><circle cx="371.2" cy="802.9" r="4.3"/><circle cx="374.1" cy="800.6" r="4.3"/><circle cx="375.7" cy="795.2" r="4.3"/><circle cx="383" cy="792.6" r="4.3"/><circle cx="387.6" cy="789" r="4.3"/><circle cx="392.9" cy="788.6" r="4.3"/><circle cx="395.9" cy="785.4" r="4.3"/><circle cx="400.9" cy="783.6" r="4.3"/><circle cx="404.6" cy="779.3" r="4.3"/><circle cx="410.3" cy="779.2" r="4.3"/><circle cx="413.5" cy="774.3" r="4.3"/><circle cx="416.8" cy="771.4" r="4.3"/><circle cx="421.2" cy="764.6" r="4.3"/><circle cx="423.2" cy="758" r="4.3"/><circle cx="428" cy="758.1" r="4.3"/><circle cx="431.4" cy="756.5" r="4.3"/><circle cx="437.3" cy="753.1" r="4.3"/><circle cx="442.1" cy="751.3" r="4.3"/><circle cx="443.7" cy="745.1" r="4.3"/><circle cx="446.6" cy="742.8" r="4.3"/><circle cx="449.2" cy="735.5" r="4.3"/><circle cx="454.3" cy="733.7" r="4.3"/><circle cx="459.8" cy="730.9" r="4.3"/><circle cx="462.6" cy="730.5" r="4.3"/><circle cx="467.3" cy="728.6" r="4.3"/><circle cx="473.4" cy="727.9" r="4.3"/><circle cx="478.1" cy="721" r="4.3"/><circle cx="480.8" cy="717.4" r="4.3"/><circle cx="483.9" cy="715.8" r="4.3"/><circle cx="487.3" cy="711" r="4.3"/><circle cx="493.1" cy="706.2" r="4.3"/><circle cx="496.7" cy="702.2" r="4.3"/><circle cx="499.8" cy="700.5" r="4.3"/><circle cx="501.7" cy="699.1" r="4.3"/><circle cx="496" cy="698.2" r="4.3"/><circle cx="489.6" cy="699" r="4.3"/><circle cx="484.1" cy="693.3" r="4.3"/><circle cx="480.8" cy="692.7" r="4.3"/><circle cx="479.5" cy="697.7" r="4.3"/><circle cx="476.5" cy="701.4" r="4.3"/><circle cx="470.2" cy="707" r="4.3"/><circle cx="467" cy="709.3" r="4.3"/><circle cx="460.9" cy="711.1" r="4.3"/><circle cx="457.7" cy="712.3" r="4.3"/><circle cx="451.7" cy="715.5" r="4.3"/><circle cx="449" cy="719.3" r="4.3"/><circle cx="442.5" cy="720.7" r="4.3"/><circle cx="437.2" cy="723.8" r="4.3"/><circle cx="432.3" cy="724.3" r="4.3"/><circle cx="427.2" cy="727.8" r="4.3"/><circle cx="422.6" cy="729.3" r="4.3"/><circle cx="416.9" cy="727.3" r="4.3"/><circle cx="411.9" cy="730.3" r="4.3"/><circle cx="407" cy="729.3" r="4.3"/><circle cx="401.4" cy="730.4" r="4.3"/><circle cx="395.4" cy="733.4" r="4.3"/><circle cx="391.9" cy="735.3" r="4.3"/><circle cx="385.5" cy="732.7" r="4.3"/><circle cx="384.7" cy="731.1" r="4.3"/><circle cx="379" cy="734.3" r="4.3"/><circle cx="377.1" cy="737.9" r="4.3"/><circle cx="372.9" cy="744.7" r="4.3"/><circle cx="370.8" cy="747" r="4.3"/><circle cx="364.6" cy="751.6" r="4.3"/><circle cx="359" cy="749.1" r="4.3"/><circle cx="355.5" cy="745.5" r="4.3"/><circle cx="349.3" cy="743.8" r="4.3"/><circle cx="346.6" cy="744.7" r="4.3"/><circle cx="338.7" cy="744.1" r="4.3"/><circle cx="335.5" cy="746.4" r="4.3"/><circle cx="328.3" cy="745.2" r="4.3"/><circle cx="324.4" cy="747.4" r="4.3"/><circle cx="317.6" cy="746.9" r="4.3"/><circle cx="313.1" cy="743.1" r="4.3"/><circle cx="309.1" cy="742.2" r="4.3"/><circle cx="304.9" cy="742.7" r="4.3"/><circle cx="300" cy="749.7" r="4.3"/><circle cx="296.6" cy="749.7" r="4.3"/><circle cx="291.6" cy="751.6" r="4.3"/><circle cx="287.5" cy="756.4" r="4.3"/><circle cx="282.9" cy="760" r="4.3"/><circle cx="282.3" cy="766.2" r="4.3"/><circle cx="278.3" cy="770.3" r="4.3"/><circle cx="275" cy="767.8" r="4.3"/><circle cx="268.1" cy="765.7" r="4.3"/><circle cx="267" cy="771.1" r="4.3"/><circle cx="267.8" cy="775.3" r="4.3"/><circle cx="265" cy="779" r="4.3"/><circle cx="261.5" cy="783.9" r="4.3"/><circle cx="260.6" cy="788.4" r="4.3"/><circle cx="260" cy="795.2" r="4.3"/><circle cx="277.8" cy="672.5" r="4.3"/><circle cx="438.9" cy="679" r="4.3"/><circle cx="307.7" cy="708.1" r="4.3"/><circle cx="328.3" cy="708.1" r="4.3"/><circle cx="362.1" cy="712.8" r="4.3"/><circle cx="343.3" cy="720.8" r="4.3"/><circle cx="354.6" cy="727.8" r="4.3"/><circle cx="325.5" cy="733.4" r="4.3"/><circle cx="352.7" cy="738.1" r="4.3"/><circle cx="339.6" cy="739.9" r="4.3"/><circle cx="307.7" cy="734.3" r="4.3"/><circle cx="299.3" cy="745.6" r="4.3"/><circle cx="278.7" cy="752.1" r="4.3"/><circle cx="263.7" cy="762.4" r="4.3"/><circle cx="236.5" cy="767.7" r="4.3"/><circle cx="215" cy="788.6" r="4.3"/><circle cx="230" cy="789.6" r="4.3"/><circle cx="237.5" cy="789.6" r="4.3"/><circle cx="256.2" cy="784.9" r="4.3"/><circle cx="228.1" cy="810.2" r="4.3"/><circle cx="238.4" cy="813" r="4.3"/><circle cx="217.8" cy="824.2" r="4.3"/><circle cx="258.1" cy="829.9" r="4.3"/><circle cx="469.8" cy="693.1" r="4.3"/><circle cx="482.9" cy="685.6" r="4.3"/><circle cx="484.8" cy="691.2" r="4.3"/><circle cx="511" cy="702.5" r="4.3"/><circle cx="491.3" cy="723.1" r="4.3"/><circle cx="473.5" cy="730.6" r="4.3"/><circle cx="447.3" cy="750.2" r="4.3"/><circle cx="443.6" cy="754.9" r="4.3"/><circle cx="418.3" cy="776.5" r="4.3"/><circle cx="405.2" cy="785.8" r="4.3"/><circle cx="398.6" cy="798" r="4.3"/><circle cx="389.2" cy="805.5" r="4.3"/><circle cx="423" cy="812.1" r="4.3"/><circle cx="378" cy="818.6" r="4.3"/><circle cx="385.5" cy="820.5" r="4.3"/><circle cx="369.6" cy="829.9" r="4.3"/><circle cx="381.7" cy="843" r="4.3"/><circle cx="397.7" cy="850.5" r="4.3"/><circle cx="349.9" cy="843" r="4.3"/><circle cx="341.5" cy="850.5" r="4.3"/><circle cx="339.6" cy="882.3" r="4.3"/><circle cx="327.4" cy="880.4" r="4.3"/><circle cx="312.4" cy="878.6" r="4.3"/><circle cx="296.5" cy="874.8" r="4.3"/><circle cx="289" cy="884.2" r="4.3"/><circle cx="305.9" cy="902" r="4.3"/><circle cx="322.7" cy="928.2" r="4.3"/><circle cx="304" cy="935.7" r="4.3"/><circle cx="289" cy="884.5" r="4.3"/><circle cx="305.9" cy="902.1" r="4.3"/><circle cx="322.3" cy="928.5" r="4.3"/><circle cx="303.6" cy="936" r="4.3"/><circle cx="339.9" cy="882.2" r="4.3"/><circle cx="382" cy="843.5" r="4.3"/><circle cx="397.2" cy="850.5" r="4.3"/><circle cx="297" cy="875.1" r="4.3"/><circle cx="311.8" cy="879.8" r="4.3"/><circle cx="327" cy="881" r="4.3"/><circle cx="341" cy="850.5" r="4.3"/><circle cx="350.4" cy="843.5" r="4.3"/><circle cx="277.5" cy="672.3" r="4.3"/><circle cx="308" cy="708.1" r="4.3"/><circle cx="327.9" cy="708.1" r="4.3"/><circle cx="362.5" cy="713.3" r="4.3"/><circle cx="236.5" cy="767.6" r="4.3"/><circle cx="343.1" cy="720.3" r="4.3"/><circle cx="354.8" cy="727.4" r="4.3"/><circle cx="125.6" cy="799" r="4.3"/><circle cx="625" cy="614.1" r="4.3"/><circle cx="630" cy="615" r="4.3"/><circle cx="636" cy="615.5" r="4.3"/><circle cx="642" cy="616" r="4.3"/><circle cx="648" cy="616.2" r="4.3"/><circle cx="656" cy="616.2" r="4.3"/><circle cx="651" cy="613" r="4.3"/><circle cx="658.8" cy="602.2" r="4.3"/><circle cx="662" cy="599" r="4.3"/><circle cx="666.5" cy="597.2" r="4.3"/><circle cx="671" cy="598" r="4.3"/><circle cx="676.3" cy="601.5" r="4.3"/><circle cx="667" cy="603" r="4.3"/><circle cx="674.2" cy="615.5" r="4.3"/><circle cx="655.3" cy="628.4" r="4.3"/><circle cx="504.2" cy="694.2" r="4.3"/><circle cx="510.5" cy="702.6" r="4.3"/></g><line x1="98.6" y1="931.8" x2="676.3" y2="594" stroke="#2318c4" stroke-width="2.2" clip-path="url(#cc)"/><path d="M98.6 951.2h-3M98.6 948.4h-3M98.6 945.9h-3M98.6 943.7h-5M106.3 952.9v3M98.6 929.2h-3M120.8 952.9v3M98.6 920.7h-3M131.1 952.9v3M98.6 914.7h-3M139.1 952.9v3M98.6 910h-3M145.6 952.9v3M98.6 906.2h-3M151.1 952.9v3M98.6 903h-3M155.8 952.9v3M98.6 900.2h-3M160 952.9v3M98.6 897.7h-3M163.8 952.9v5M98.6 895.5h-5M188.5 952.9v3M98.6 881h-3M203 952.9v3M98.6 872.5h-3M213.3 952.9v3M98.6 866.5h-3M221.3 952.9v3M98.6 861.8h-3M227.8 952.9v3M98.6 858h-3M233.3 952.9v3M98.6 854.8h-3M238 952.9v3M98.6 852h-3M242.2 952.9v3M98.6 849.5h-3M246 952.9v5M98.6 847.3h-5M270.7 952.9v3M98.6 832.8h-3M285.2 952.9v3M98.6 824.3h-3M295.5 952.9v3M98.6 818.3h-3M303.5 952.9v3M98.6 813.6h-3M310 952.9v3M98.6 809.8h-3M315.5 952.9v3M98.6 806.6h-3M320.2 952.9v3M98.6 803.8h-3M324.4 952.9v3M98.6 801.3h-3M328.2 952.9v5M98.6 799.1h-5M352.9 952.9v3M98.6 784.6h-3M367.4 952.9v3M98.6 776.1h-3M377.7 952.9v3M98.6 770.1h-3M385.7 952.9v3M98.6 765.4h-3M392.2 952.9v3M98.6 761.6h-3M397.7 952.9v3M98.6 758.4h-3M402.4 952.9v3M98.6 755.6h-3M406.6 952.9v3M98.6 753.1h-3M410.4 952.9v5M98.6 750.9h-5M435.1 952.9v3M98.6 736.4h-3M449.6 952.9v3M98.6 727.9h-3M459.9 952.9v3M98.6 721.9h-3M467.9 952.9v3M98.6 717.2h-3M474.4 952.9v3M98.6 713.4h-3M479.9 952.9v3M98.6 710.2h-3M484.6 952.9v3M98.6 707.4h-3M488.8 952.9v3M98.6 704.9h-3M492.6 952.9v5M98.6 702.7h-5M517.3 952.9v3M98.6 688.2h-3M531.8 952.9v3M98.6 679.7h-3M542.1 952.9v3M98.6 673.7h-3M550.1 952.9v3M98.6 669h-3M556.6 952.9v3M98.6 665.2h-3M562.1 952.9v3M98.6 662h-3M566.8 952.9v3M98.6 659.2h-3M571 952.9v3M98.6 656.7h-3M574.8 952.9v5M98.6 654.5h-5M599.5 952.9v3M98.6 640h-3M614 952.9v3M98.6 631.5h-3M624.3 952.9v3M98.6 625.5h-3M632.3 952.9v3M98.6 620.8h-3M638.8 952.9v3M98.6 617h-3M644.3 952.9v3M98.6 613.8h-3M649 952.9v3M98.6 611h-3M653.2 952.9v3M98.6 608.5h-3M657 952.9v5M98.6 606.3h-5M681.7 952.9v3M98.6 591.8h-3M696.2 952.9v3M98.6 583.3h-3" stroke="#444" stroke-width="1.3" fill="none"/><rect x="98.6" y="577.9" width="605.1" height="375" fill="none" stroke="#555" stroke-width="2"/><text x="163.8" y="975.9" text-anchor="middle">10<tspan font-size="9.92" dy="-5.1">−2</tspan></text><text x="246" y="975.9" text-anchor="middle">10<tspan font-size="9.92" dy="-5.1">−1</tspan></text><text x="328.2" y="975.9" text-anchor="middle">10<tspan font-size="9.92" dy="-5.1">0</tspan></text><text x="410.4" y="975.9" text-anchor="middle">10<tspan font-size="9.92" dy="-5.1">1</tspan></text><text x="492.6" y="975.9" text-anchor="middle">10<tspan font-size="9.92" dy="-5.1">2</tspan></text><text x="574.8" y="975.9" text-anchor="middle">10<tspan font-size="9.92" dy="-5.1">3</tspan></text><text x="657" y="975.9" text-anchor="middle">10<tspan font-size="9.92" dy="-5.1">4</tspan></text><text x="86.6" y="949.3" text-anchor="end">10<tspan font-size="9.92" dy="-5.1">−3</tspan></text><text x="86.6" y="901.1" text-anchor="end">10<tspan font-size="9.92" dy="-5.1">−2</tspan></text><text x="86.6" y="852.9" text-anchor="end">10<tspan font-size="9.92" dy="-5.1">−1</tspan></text><text x="86.6" y="804.7" text-anchor="end">10<tspan font-size="9.92" dy="-5.1">0</tspan></text><text x="86.6" y="756.5" text-anchor="end">10<tspan font-size="9.92" dy="-5.1">1</tspan></text><text x="86.6" y="708.3" text-anchor="end">10<tspan font-size="9.92" dy="-5.1">2</tspan></text><text x="86.6" y="660.1" text-anchor="end">10<tspan font-size="9.92" dy="-5.1">3</tspan></text><text x="86.6" y="611.9" text-anchor="end">10<tspan font-size="9.92" dy="-5.1">4</tspan></text></g>
<text x="401.2" y="569.2" text-anchor="middle" font-family="'DejaVu Sans', 'Liberation Sans', sans-serif" font-size="20.3" fill="#1a1a1a">XGBoost Regressor</text>
<text x="401.2" y="1000.4" text-anchor="middle" font-family="'DejaVu Sans', 'Liberation Sans', sans-serif" font-size="20.3" fill="#1a1a1a">Actual Values</text>
<text transform="translate(46.2,765.4) rotate(-90)" text-anchor="middle" font-family="'DejaVu Sans', 'Liberation Sans', sans-serif" font-size="20.3" fill="#1a1a1a">Predicted Values</text>
<text x="1" y="621.9" font-family="'Liberation Sans', Arial, sans-serif" font-size="25.5" fill="#111">c)</text>
<g font-family="'DejaVu Sans', 'Liberation Sans', sans-serif" font-size="13.0" fill="#1a1a1a"><clipPath id="cd"><rect x="1005" y="580.6" width="630.8" height="391"/></clipPath><g clip-path="url(#cd)" fill="#dc143c"><polygon points="1154.5,951.5 1159.9,955.1 1200.3,955.9 1277.6,955.1 1354.7,953 1376.2,950.8 1375.9,949.3 1359.8,947.5 1359.6,947.5 1341.8,944.4 1277.6,943.7 1277.6,943.7 1226.1,942.9 1200.5,944.4 1155.9,947.4" stroke="#dc143c" stroke-width="2" stroke-linejoin="round"/><circle cx="1157.4" cy="951.4" r="4.5"/><circle cx="1160.3" cy="955" r="4.5"/><circle cx="1167.8" cy="955.6" r="4.5"/><circle cx="1170.8" cy="956.2" r="4.5"/><circle cx="1178.8" cy="955" r="4.5"/><circle cx="1183" cy="956.6" r="4.5"/><circle cx="1189.7" cy="955.9" r="4.5"/><circle cx="1196.3" cy="956.3" r="4.5"/><circle cx="1199.5" cy="956.8" r="4.5"/><circle cx="1205.6" cy="957" r="4.5"/><circle cx="1211.5" cy="955.4" r="4.5"/><circle cx="1217.6" cy="956.8" r="4.5"/><circle cx="1224.2" cy="955.1" r="4.5"/><circle cx="1227.4" cy="956.4" r="4.5"/><circle cx="1236" cy="954.3" r="4.5"/><circle cx="1242" cy="954.9" r="4.5"/><circle cx="1246.3" cy="954.2" r="4.5"/><circle cx="1252.5" cy="956.5" r="4.5"/><circle cx="1257.1" cy="954.9" r="4.5"/><circle cx="1261.7" cy="953.8" r="4.5"/><circle cx="1269.8" cy="955.6" r="4.5"/><circle cx="1275.3" cy="955.3" r="4.5"/><circle cx="1280.5" cy="955.8" r="4.5"/><circle cx="1284.9" cy="954.5" r="4.5"/><circle cx="1291.7" cy="955.2" r="4.5"/><circle cx="1296" cy="954.4" r="4.5"/><circle cx="1304.6" cy="953.2" r="4.5"/><circle cx="1309.5" cy="955.5" r="4.5"/><circle cx="1314.8" cy="952.6" r="4.5"/><circle cx="1319" cy="952" r="4.5"/><circle cx="1326.8" cy="954.5" r="4.5"/><circle cx="1330.5" cy="952.6" r="4.5"/><circle cx="1336.3" cy="954.5" r="4.5"/><circle cx="1343.1" cy="953.6" r="4.5"/><circle cx="1349.5" cy="953.1" r="4.5"/><circle cx="1353.6" cy="952" r="4.5"/><circle cx="1359.7" cy="953.6" r="4.5"/><circle cx="1364" cy="951.4" r="4.5"/><circle cx="1372.4" cy="951.5" r="4.5"/><circle cx="1376.7" cy="950.5" r="4.5"/><circle cx="1372.2" cy="949.4" r="4.5"/><circle cx="1365.2" cy="948.8" r="4.5"/><circle cx="1359.4" cy="949" r="4.5"/><circle cx="1356" cy="945.6" r="4.5"/><circle cx="1347.2" cy="945" r="4.5"/><circle cx="1344.6" cy="944.7" r="4.5"/><circle cx="1338.9" cy="943.7" r="4.5"/><circle cx="1332.5" cy="945.5" r="4.5"/><circle cx="1327.4" cy="943.7" r="4.5"/><circle cx="1318.6" cy="945.9" r="4.5"/><circle cx="1316.1" cy="944.3" r="4.5"/><circle cx="1310.1" cy="945.8" r="4.5"/><circle cx="1303.9" cy="944.6" r="4.5"/><circle cx="1295.9" cy="944.6" r="4.5"/><circle cx="1292.3" cy="943.5" r="4.5"/><circle cx="1285.5" cy="942.5" r="4.5"/><circle cx="1280.5" cy="945.1" r="4.5"/><circle cx="1273.9" cy="944.8" r="4.5"/><circle cx="1269" cy="945" r="4.5"/><circle cx="1264.1" cy="943.8" r="4.5"/><circle cx="1256.2" cy="943.2" r="4.5"/><circle cx="1250.8" cy="942.4" r="4.5"/><circle cx="1245.4" cy="944.5" r="4.5"/><circle cx="1241.4" cy="944.9" r="4.5"/><circle cx="1234.7" cy="943.1" r="4.5"/><circle cx="1229.8" cy="944" r="4.5"/><circle cx="1222.3" cy="942.1" r="4.5"/><circle cx="1218.2" cy="943.4" r="4.5"/><circle cx="1211.6" cy="945.7" r="4.5"/><circle cx="1205.1" cy="943.1" r="4.5"/><circle cx="1199.9" cy="946.2" r="4.5"/><circle cx="1193.8" cy="944" r="4.5"/><circle cx="1188.2" cy="946.4" r="4.5"/><circle cx="1183.4" cy="945.5" r="4.5"/><circle cx="1179.4" cy="945.6" r="4.5"/><circle cx="1171.5" cy="946.1" r="4.5"/><circle cx="1165.9" cy="946.8" r="4.5"/><circle cx="1160.4" cy="948.6" r="4.5"/><circle cx="1156.9" cy="949.4" r="4.5"/><polygon points="1134.3,899.5 1135.3,902.3 1164.4,903.6 1164.8,903.6 1179.8,906.1 1180.1,906.2 1180.4,906.3 1180.7,906.4 1180.9,906.6 1181.2,906.7 1181.4,906.9 1181.6,907.1 1181.8,907.4 1182,907.6 1182.1,907.9 1182.3,908.2 1182.3,908.5 1184.5,917.1 1196,921.7 1216.1,925.8 1251.9,925.8 1252,925.8 1277.6,926.2 1316.1,924.8 1348.8,921.7 1362.4,912.7 1360,888.5 1359.9,888.2 1359.9,870.1 1359.4,858.3 1359.4,858 1359.4,857.7 1359.5,857.3 1359.6,857 1359.7,856.7 1359.9,856.4 1360.1,856.2 1372.9,840.3 1373.1,840.2 1388.1,824.2 1388.2,824.1 1403.1,810.1 1403.4,809.9 1403.6,809.7 1403.9,809.6 1404.2,809.5 1420,804.1 1419.8,803.3 1405.9,803.6 1396.7,810 1366.9,839.8 1354,853.8 1353.7,854 1338.6,866.9 1338.4,867.1 1338.1,867.3 1337.8,867.4 1337.5,867.6 1337.1,867.6 1309,872.8 1308.8,872.8 1308.5,872.8 1308.2,872.8 1277.6,870.3 1241.9,874.1 1209.2,880.4 1199.4,887.7 1199.1,887.9 1186.4,895.5 1186.1,895.7 1185.8,895.8 1185.4,895.9 1185.1,895.9 1184.8,895.9 1164.5,895.9" stroke="#dc143c" stroke-width="2" stroke-linejoin="round"/><circle cx="1135.6" cy="901.7" r="4.5"/><circle cx="1140.6" cy="901.3" r="4.5"/><circle cx="1144.3" cy="903" r="4.5"/><circle cx="1151.4" cy="903.3" r="4.5"/><circle cx="1155.2" cy="902.4" r="4.5"/><circle cx="1163.1" cy="904" r="4.5"/><circle cx="1166.8" cy="904.8" r="4.5"/><circle cx="1173" cy="905.2" r="4.5"/><circle cx="1178.6" cy="906.6" r="4.5"/><circle cx="1183.6" cy="909.7" r="4.5"/><circle cx="1184.9" cy="913.4" r="4.5"/><circle cx="1188.3" cy="919.1" r="4.5"/><circle cx="1191.9" cy="920.9" r="4.5"/><circle cx="1199.9" cy="921.3" r="4.5"/><circle cx="1203.9" cy="922.7" r="4.5"/><circle cx="1208.9" cy="923.4" r="4.5"/><circle cx="1214" cy="923.8" r="4.5"/><circle cx="1220" cy="925" r="4.5"/><circle cx="1226.7" cy="925.8" r="4.5"/><circle cx="1231.5" cy="925.4" r="4.5"/><circle cx="1237.8" cy="926.8" r="4.5"/><circle cx="1242.7" cy="925.6" r="4.5"/><circle cx="1247.9" cy="926.1" r="4.5"/><circle cx="1254.8" cy="925.6" r="4.5"/><circle cx="1258" cy="926.8" r="4.5"/><circle cx="1263.9" cy="925.1" r="4.5"/><circle cx="1269.5" cy="927.3" r="4.5"/><circle cx="1277.8" cy="926.2" r="4.5"/><circle cx="1281.6" cy="926.8" r="4.5"/><circle cx="1287.5" cy="925" r="4.5"/><circle cx="1292.8" cy="926.6" r="4.5"/><circle cx="1300.6" cy="924.4" r="4.5"/><circle cx="1304.9" cy="926.1" r="4.5"/><circle cx="1312" cy="923.4" r="4.5"/><circle cx="1316.1" cy="925" r="4.5"/><circle cx="1321.3" cy="925.2" r="4.5"/><circle cx="1326.5" cy="923.6" r="4.5"/><circle cx="1333.9" cy="922.1" r="4.5"/><circle cx="1339.8" cy="921.1" r="4.5"/><circle cx="1343.8" cy="920.3" r="4.5"/><circle cx="1349.8" cy="921" r="4.5"/><circle cx="1352.1" cy="917.8" r="4.5"/><circle cx="1358.4" cy="915" r="4.5"/><circle cx="1362.2" cy="910" r="4.5"/><circle cx="1361.7" cy="907.1" r="4.5"/><circle cx="1359.3" cy="901.9" r="4.5"/><circle cx="1359.1" cy="895.2" r="4.5"/><circle cx="1358" cy="887.7" r="4.5"/><circle cx="1361.1" cy="882.7" r="4.5"/><circle cx="1360.8" cy="876.1" r="4.5"/><circle cx="1358.2" cy="872.3" r="4.5"/><circle cx="1360.6" cy="865" r="4.5"/><circle cx="1358.3" cy="861.2" r="4.5"/><circle cx="1359.9" cy="854.3" r="4.5"/><circle cx="1364.3" cy="853.1" r="4.5"/><circle cx="1366.3" cy="847.7" r="4.5"/><circle cx="1371.6" cy="842.1" r="4.5"/><circle cx="1375.7" cy="837.6" r="4.5"/><circle cx="1379.3" cy="834.5" r="4.5"/><circle cx="1382.4" cy="828.4" r="4.5"/><circle cx="1385.4" cy="826.9" r="4.5"/><circle cx="1392.1" cy="821.6" r="4.5"/><circle cx="1393.9" cy="818" r="4.5"/><circle cx="1397.9" cy="812.7" r="4.5"/><circle cx="1403.6" cy="810.4" r="4.5"/><circle cx="1408.5" cy="807.3" r="4.5"/><circle cx="1414.2" cy="804.6" r="4.5"/><circle cx="1419.2" cy="804.5" r="4.5"/><circle cx="1415.6" cy="802.5" r="4.5"/><circle cx="1411.9" cy="804" r="4.5"/><circle cx="1405.5" cy="805.5" r="4.5"/><circle cx="1401.2" cy="809.3" r="4.5"/><circle cx="1396.3" cy="811.9" r="4.5"/><circle cx="1392" cy="816.7" r="4.5"/><circle cx="1388.3" cy="819.5" r="4.5"/><circle cx="1384.1" cy="822.5" r="4.5"/><circle cx="1379.6" cy="827.8" r="4.5"/><circle cx="1375.6" cy="832" r="4.5"/><circle cx="1373.4" cy="835.3" r="4.5"/><circle cx="1368.8" cy="837.8" r="4.5"/><circle cx="1362.7" cy="842.5" r="4.5"/><circle cx="1360.3" cy="848.8" r="4.5"/><circle cx="1356.3" cy="852.3" r="4.5"/><circle cx="1353.3" cy="854.7" r="4.5"/><circle cx="1349.5" cy="858" r="4.5"/><circle cx="1345.7" cy="863.5" r="4.5"/><circle cx="1339.9" cy="867.2" r="4.5"/><circle cx="1335.9" cy="867" r="4.5"/><circle cx="1328.7" cy="871.1" r="4.5"/><circle cx="1322.9" cy="870.7" r="4.5"/><circle cx="1317.7" cy="870.1" r="4.5"/><circle cx="1313" cy="873.8" r="4.5"/><circle cx="1305.8" cy="872.3" r="4.5"/><circle cx="1301.9" cy="872.6" r="4.5"/><circle cx="1295.8" cy="873.3" r="4.5"/><circle cx="1289.3" cy="873.1" r="4.5"/><circle cx="1284.5" cy="870.4" r="4.5"/><circle cx="1277.6" cy="869.2" r="4.5"/><circle cx="1274.2" cy="871.6" r="4.5"/><circle cx="1269.5" cy="872.8" r="4.5"/><circle cx="1262.7" cy="871" r="4.5"/><circle cx="1256" cy="871.7" r="4.5"/><circle cx="1250.2" cy="875.2" r="4.5"/><circle cx="1246.4" cy="873.7" r="4.5"/><circle cx="1241.2" cy="874" r="4.5"/><circle cx="1234.3" cy="876.8" r="4.5"/><circle cx="1229.2" cy="877.5" r="4.5"/><circle cx="1225" cy="877.9" r="4.5"/><circle cx="1218.3" cy="879" r="4.5"/><circle cx="1214" cy="880.9" r="4.5"/><circle cx="1207.3" cy="880.7" r="4.5"/><circle cx="1204.2" cy="886.2" r="4.5"/><circle cx="1198" cy="888.5" r="4.5"/><circle cx="1193.7" cy="892.8" r="4.5"/><circle cx="1187" cy="894.4" r="4.5"/><circle cx="1183.1" cy="896.9" r="4.5"/><circle cx="1179" cy="895.9" r="4.5"/><circle cx="1173.5" cy="896.5" r="4.5"/><circle cx="1164.7" cy="896.5" r="4.5"/><circle cx="1161.2" cy="895.2" r="4.5"/><circle cx="1156.7" cy="897.1" r="4.5"/><circle cx="1148.1" cy="898.8" r="4.5"/><circle cx="1143.6" cy="899.6" r="4.5"/><circle cx="1139.8" cy="899.9" r="4.5"/><circle cx="1381.6" cy="853.7" r="4.5"/><circle cx="1384" cy="839.5" r="4.5"/><circle cx="1378.3" cy="841.8" r="4.5"/><circle cx="1378.6" cy="826.1" r="4.5"/><circle cx="1352.1" cy="864.2" r="4.5"/><circle cx="1367.2" cy="860.5" r="4.5"/><circle cx="1407.7" cy="821.6" r="4.5"/><circle cx="1375" cy="845.8" r="4.5"/><circle cx="1348.5" cy="850.4" r="4.5"/><circle cx="1399.1" cy="832" r="4.5"/><circle cx="1374.7" cy="840.3" r="4.5"/><circle cx="1357.5" cy="839.8" r="4.5"/><circle cx="1393.8" cy="812.3" r="4.5"/><circle cx="1408.1" cy="819.7" r="4.5"/><circle cx="1384.2" cy="835.3" r="4.5"/><circle cx="1372.9" cy="842.8" r="4.5"/><circle cx="1351.2" cy="863" r="4.5"/><circle cx="1359.8" cy="858.3" r="4.5"/><circle cx="1387.9" cy="839.9" r="4.5"/><circle cx="1417.4" cy="808.3" r="4.5"/><circle cx="1412.6" cy="824.1" r="4.5"/><circle cx="1405.9" cy="831.8" r="4.5"/><circle cx="1369.9" cy="821.1" r="4.5"/><circle cx="1371.9" cy="822.2" r="4.5"/><circle cx="1349.3" cy="858" r="4.5"/><circle cx="1420.7" cy="800.7" r="4.5"/><circle cx="1374.8" cy="847.1" r="4.5"/><circle cx="1416.5" cy="824" r="4.5"/><circle cx="1391.9" cy="840.1" r="4.5"/><circle cx="1387.5" cy="843.6" r="4.5"/><circle cx="1384.9" cy="824.6" r="4.5"/><circle cx="1383.6" cy="818.1" r="4.5"/><circle cx="1388.7" cy="823.8" r="4.5"/><circle cx="1416.8" cy="820.8" r="4.5"/><circle cx="1403" cy="835.4" r="4.5"/><circle cx="1351.7" cy="835.7" r="4.5"/><circle cx="1398.2" cy="836.4" r="4.5"/><circle cx="1344.7" cy="861.8" r="4.5"/><circle cx="1382.7" cy="837.6" r="4.5"/><circle cx="1372.3" cy="836" r="4.5"/><circle cx="1402.6" cy="816.8" r="4.5"/><circle cx="1397.4" cy="810.3" r="4.5"/><circle cx="1376.5" cy="850.2" r="4.5"/><circle cx="1378.8" cy="825.9" r="4.5"/><circle cx="1417.1" cy="808.2" r="4.5"/><circle cx="1391.8" cy="822.9" r="4.5"/><circle cx="1396.9" cy="811.5" r="4.5"/><circle cx="1388.9" cy="840.8" r="4.5"/><circle cx="1356.5" cy="842.9" r="4.5"/><circle cx="1423.1" cy="810.2" r="4.5"/><circle cx="1406.5" cy="809.5" r="4.5"/><circle cx="1372.4" cy="839.3" r="4.5"/><circle cx="1358.6" cy="853.4" r="4.5"/><circle cx="1341.2" cy="850" r="4.5"/><circle cx="1389.2" cy="832.1" r="4.5"/><circle cx="1380.6" cy="823.7" r="4.5"/><circle cx="1368.4" cy="836.9" r="4.5"/><circle cx="1364" cy="841.1" r="4.5"/><circle cx="1413.3" cy="815.8" r="4.5"/><circle cx="1360.1" cy="848.2" r="4.5"/><circle cx="1378.3" cy="838.7" r="4.5"/><circle cx="1416.2" cy="824.9" r="4.5"/><circle cx="1413.3" cy="808.9" r="4.5"/><circle cx="1391.6" cy="827.7" r="4.5"/><circle cx="1032.9" cy="953.1" r="4.5"/><circle cx="1090.8" cy="948" r="4.5"/><circle cx="1114" cy="953.1" r="4.5"/><circle cx="1125.6" cy="950" r="4.5"/><circle cx="1141.1" cy="948.7" r="4.5"/><circle cx="1143.7" cy="953.9" r="4.5"/><circle cx="1164.3" cy="938.4" r="4.5"/><circle cx="1156.5" cy="944.9" r="4.5"/><circle cx="1174.6" cy="950" r="4.5"/><circle cx="1378.1" cy="865" r="4.5"/><circle cx="1385.8" cy="872.7" r="4.5"/><circle cx="1393.5" cy="877.9" r="4.5"/><circle cx="1406.4" cy="872.7" r="4.5"/><circle cx="1409" cy="879.2" r="4.5"/><circle cx="1403.8" cy="897.2" r="4.5"/><circle cx="1398.7" cy="903.7" r="4.5"/><circle cx="1383.2" cy="908.8" r="4.5"/><circle cx="1393.5" cy="916.5" r="4.5"/><circle cx="1406.4" cy="914" r="4.5"/><circle cx="1429.6" cy="910.1" r="4.5"/><circle cx="1434.8" cy="910.1" r="4.5"/><circle cx="1372.9" cy="893.3" r="4.5"/><circle cx="1365.2" cy="914" r="4.5"/><circle cx="1244.1" cy="836.7" r="4.5"/><circle cx="1242.8" cy="847.5" r="4.5"/><circle cx="1259.6" cy="852.1" r="4.5"/><circle cx="1268.6" cy="852.1" r="4.5"/><circle cx="1303.4" cy="859.9" r="4.5"/><circle cx="1331.7" cy="836.7" r="4.5"/><circle cx="1391" cy="849.6" r="4.5"/><circle cx="1424.4" cy="814.8" r="4.5"/><circle cx="1396.1" cy="821.2" r="4.5"/><circle cx="1401.3" cy="831.5" r="4.5"/><circle cx="1380.7" cy="888.2" r="4.5"/><circle cx="1388.4" cy="893.3" r="4.5"/><circle cx="1375.5" cy="901.1" r="4.5"/><circle cx="1605.5" cy="806.3" r="4.5"/><circle cx="1423.7" cy="815.1" r="4.5"/><circle cx="1412.4" cy="829.6" r="4.5"/><circle cx="1399.3" cy="837.1" r="4.5"/><circle cx="1374.9" cy="849.3" r="4.5"/><circle cx="1391.8" cy="849.3" r="4.5"/><circle cx="1330.9" cy="837.1" r="4.5"/><circle cx="1377.8" cy="865.2" r="4.5"/><circle cx="1386.2" cy="869.9" r="4.5"/><circle cx="1393.7" cy="876.5" r="4.5"/><circle cx="1408.7" cy="869.9" r="4.5"/><circle cx="1409.6" cy="878.4" r="4.5"/><circle cx="1374.9" cy="878.4" r="4.5"/><circle cx="1377.8" cy="886.8" r="4.5"/><circle cx="1393.7" cy="885.9" r="4.5"/><circle cx="1403" cy="892.4" r="4.5"/><circle cx="1553.3" cy="638" r="4.5"/><circle cx="1560.3" cy="635.9" r="4.5"/><circle cx="1569.4" cy="629.6" r="4.5"/><circle cx="1574.4" cy="633.1" r="4.5"/><circle cx="1580.7" cy="633.1" r="4.5"/><circle cx="1587.7" cy="624.6" r="4.5"/><circle cx="1585.6" cy="609.9" r="4.5"/><circle cx="1595.4" cy="606.4" r="4.5"/><circle cx="1598.2" cy="614.1" r="4.5"/><circle cx="1607.4" cy="605.7" r="4.5"/><circle cx="1602.5" cy="610.6" r="4.5"/><circle cx="1592" cy="618" r="4.5"/><circle cx="1565" cy="632" r="4.5"/></g><line x1="1245.6" y1="971.6" x2="1606.7" y2="597.2" stroke="#2318c4" stroke-width="2.2" clip-path="url(#cd)"/><path d="M1012.2 971.6v3M1027.3 971.6v3M1038 971.6v3M1046.3 971.6v3M1053.1 971.6v3M1058.9 971.6v3M1063.9 971.6v3M1068.3 971.6v3M1072.2 971.6v5M1098.1 971.6v3M1113.2 971.6v3M1123.9 971.6v3M1132.2 971.6v3M1139 971.6v3M1144.8 971.6v3M1149.8 971.6v3M1154.2 971.6v3M1158.1 971.6v5M1184 971.6v3M1199.1 971.6v3M1209.8 971.6v3M1218.1 971.6v3M1224.9 971.6v3M1230.7 971.6v3M1235.7 971.6v3M1240.1 971.6v3M1244 971.6v5M1269.9 971.6v3M1005 947.7h-3M1285 971.6v3M1005 932.1h-3M1295.7 971.6v3M1005 921h-3M1304 971.6v3M1005 912.4h-3M1310.8 971.6v3M1005 905.4h-3M1316.6 971.6v3M1005 899.4h-3M1321.6 971.6v3M1005 894.3h-3M1326 971.6v3M1005 889.8h-3M1329.9 971.6v5M1005 885.7h-5M1355.8 971.6v3M1005 859h-3M1370.9 971.6v3M1005 843.4h-3M1381.6 971.6v3M1005 832.3h-3M1389.9 971.6v3M1005 823.7h-3M1396.7 971.6v3M1005 816.7h-3M1402.5 971.6v3M1005 810.7h-3M1407.5 971.6v3M1005 805.6h-3M1411.9 971.6v3M1005 801.1h-3M1415.8 971.6v5M1005 797h-5M1441.7 971.6v3M1005 770.3h-3M1456.8 971.6v3M1005 754.7h-3M1467.5 971.6v3M1005 743.6h-3M1475.8 971.6v3M1005 735h-3M1482.6 971.6v3M1005 728h-3M1488.4 971.6v3M1005 722h-3M1493.4 971.6v3M1005 716.9h-3M1497.8 971.6v3M1005 712.4h-3M1501.7 971.6v5M1005 708.3h-5M1527.6 971.6v3M1005 681.6h-3M1542.7 971.6v3M1005 666h-3M1553.4 971.6v3M1005 654.9h-3M1561.7 971.6v3M1005 646.3h-3M1568.5 971.6v3M1005 639.3h-3M1574.3 971.6v3M1005 633.3h-3M1579.3 971.6v3M1005 628.2h-3M1583.7 971.6v3M1005 623.7h-3M1587.6 971.6v5M1005 619.6h-5M1613.5 971.6v3M1005 592.9h-3M1628.6 971.6v3" stroke="#444" stroke-width="1.3" fill="none"/><rect x="1005" y="580.6" width="630.8" height="391" fill="none" stroke="#555" stroke-width="2"/><text x="1072.2" y="995.6" text-anchor="middle">10<tspan font-size="10.4" dy="-5.3">−2</tspan></text><text x="1158.1" y="995.6" text-anchor="middle">10<tspan font-size="10.4" dy="-5.3">−1</tspan></text><text x="1244" y="995.6" text-anchor="middle">10<tspan font-size="10.4" dy="-5.3">0</tspan></text><text x="1329.9" y="995.6" text-anchor="middle">10<tspan font-size="10.4" dy="-5.3">1</tspan></text><text x="1415.8" y="995.6" text-anchor="middle">10<tspan font-size="10.4" dy="-5.3">2</tspan></text><text x="1501.7" y="995.6" text-anchor="middle">10<tspan font-size="10.4" dy="-5.3">3</tspan></text><text x="1587.6" y="995.6" text-anchor="middle">10<tspan font-size="10.4" dy="-5.3">4</tspan></text><text x="993" y="891.5" text-anchor="end">10<tspan font-size="10.4" dy="-5.3">1</tspan></text><text x="993" y="802.9" text-anchor="end">10<tspan font-size="10.4" dy="-5.3">2</tspan></text><text x="993" y="714.1" text-anchor="end">10<tspan font-size="10.4" dy="-5.3">3</tspan></text><text x="993" y="625.4" text-anchor="end">10<tspan font-size="10.4" dy="-5.3">4</tspan></text></g>
<text x="1320.4" y="571.9" text-anchor="middle" font-family="'DejaVu Sans', 'Liberation Sans', sans-serif" font-size="21.2" fill="#1a1a1a">AdaBoost Regressor</text>
<text x="1320.4" y="1021.9" text-anchor="middle" font-family="'DejaVu Sans', 'Liberation Sans', sans-serif" font-size="21.3" fill="#1a1a1a">Actual Values</text>
<text transform="translate(957.4,776.1) rotate(-90)" text-anchor="middle" font-family="'DejaVu Sans', 'Liberation Sans', sans-serif" font-size="21.3" fill="#1a1a1a">Predicted Values</text>
<text x="869.6" y="621.9" font-family="'Liberation Sans', Arial, sans-serif" font-size="25.5" fill="#111">d)</text>
<g font-family="'DejaVu Sans', 'Liberation Sans', sans-serif" font-size="12.4" fill="#1a1a1a"><clipPath id="ce"><rect x="98.7" y="1107" width="605" height="374.9"/></clipPath><g clip-path="url(#ce)" fill="#dc143c"><polygon points="215.9,1446.2 220.8,1448.7 236.6,1454.6 250.5,1459.6 266.2,1464.5 279.6,1466.4 303.1,1463.4 303.2,1463.4 322.9,1461.4 342.2,1456.6 357.8,1446.9 358,1446.7 369.5,1441 381,1427.6 381.2,1427.3 381.5,1427.1 381.7,1427 382,1426.8 393.3,1421.2 402.8,1407.8 403,1407.6 412.6,1396 416.4,1384.7 416.5,1384.4 416.6,1384.1 416.8,1383.9 416.9,1383.7 417.1,1383.5 433,1367.6 433.2,1367.4 442.9,1359.6 452.6,1348 462.4,1332.4 462.6,1332.1 462.8,1331.9 463,1331.7 463.2,1331.5 463.5,1331.3 463.8,1331.2 477.5,1325.3 477.8,1325.2 478,1325.1 484.3,1323.5 488,1305.3 488.1,1305 488.1,1304.8 488.3,1304.5 495.1,1290.8 490.1,1287.6 479.5,1290.3 471.8,1294.1 471.6,1294.2 458.2,1300 450.6,1307.5 440.8,1319.3 440.6,1319.5 440.4,1319.7 426.8,1331.4 419,1343 418.9,1343.2 409,1355.1 408.8,1355.3 408.5,1355.5 408.3,1355.7 408,1355.9 396.4,1361.7 389,1367.2 379.3,1382.7 379.1,1382.9 379,1383.1 365.1,1398.9 364.9,1399.1 364.7,1399.3 364.5,1399.5 364.2,1399.7 352.4,1405.6 352.2,1405.7 351.9,1405.8 351.6,1405.8 331.9,1409.8 331.5,1409.8 331.2,1409.8 330.9,1409.8 315.6,1407.9 305.2,1411.4 301.8,1418.2 301.7,1418.4 301.5,1418.7 301.3,1418.9 301.1,1419.1 300.9,1419.3 300.7,1419.4 300.4,1419.6 300.1,1419.7 299.8,1419.8 284.4,1423.6 266.7,1431.5 249,1441.3 248.7,1441.5 248.4,1441.6 248,1441.7 230.2,1444.6 230,1444.7" stroke="#dc143c" stroke-width="2" stroke-linejoin="round"/><circle cx="219.3" cy="1446.2" r="4.4"/><circle cx="223.4" cy="1449.8" r="4.4"/><circle cx="228.2" cy="1450.1" r="4.4"/><circle cx="233.9" cy="1453.1" r="4.4"/><circle cx="236.6" cy="1454.3" r="4.4"/><circle cx="244.1" cy="1458.6" r="4.4"/><circle cx="249.6" cy="1457.7" r="4.4"/><circle cx="254.4" cy="1461.9" r="4.4"/><circle cx="258" cy="1459.9" r="4.4"/><circle cx="264.2" cy="1463.3" r="4.4"/><circle cx="270.5" cy="1465.6" r="4.4"/><circle cx="274.2" cy="1464.1" r="4.4"/><circle cx="282" cy="1466.9" r="4.4"/><circle cx="284.9" cy="1467" r="4.4"/><circle cx="291.9" cy="1465.6" r="4.4"/><circle cx="298.2" cy="1464.9" r="4.4"/><circle cx="303" cy="1464.3" r="4.4"/><circle cx="308.1" cy="1463.2" r="4.4"/><circle cx="314" cy="1461.4" r="4.4"/><circle cx="318.7" cy="1461.8" r="4.4"/><circle cx="324.3" cy="1462.3" r="4.4"/><circle cx="328.9" cy="1458.7" r="4.4"/><circle cx="334.7" cy="1459.2" r="4.4"/><circle cx="339.5" cy="1457.3" r="4.4"/><circle cx="345.1" cy="1452.7" r="4.4"/><circle cx="349.3" cy="1453.4" r="4.4"/><circle cx="352.7" cy="1447.9" r="4.4"/><circle cx="359.9" cy="1444.9" r="4.4"/><circle cx="364.7" cy="1444.4" r="4.4"/><circle cx="369.4" cy="1441.4" r="4.4"/><circle cx="372.6" cy="1436.3" r="4.4"/><circle cx="375.6" cy="1433.2" r="4.4"/><circle cx="379.4" cy="1429.4" r="4.4"/><circle cx="385" cy="1424.4" r="4.4"/><circle cx="389.1" cy="1422.1" r="4.4"/><circle cx="393.9" cy="1420" r="4.4"/><circle cx="396.9" cy="1414.3" r="4.4"/><circle cx="400.8" cy="1409.6" r="4.4"/><circle cx="403.2" cy="1407.1" r="4.4"/><circle cx="408" cy="1402.8" r="4.4"/><circle cx="411.7" cy="1399.2" r="4.4"/><circle cx="413" cy="1393.6" r="4.4"/><circle cx="414.2" cy="1386.8" r="4.4"/><circle cx="415.9" cy="1383.7" r="4.4"/><circle cx="419.6" cy="1379.3" r="4.4"/><circle cx="425" cy="1374.2" r="4.4"/><circle cx="428.6" cy="1369.5" r="4.4"/><circle cx="434.5" cy="1367.7" r="4.4"/><circle cx="436.3" cy="1364.5" r="4.4"/><circle cx="440.2" cy="1361.5" r="4.4"/><circle cx="445" cy="1358.9" r="4.4"/><circle cx="447.5" cy="1352" r="4.4"/><circle cx="452.1" cy="1349" r="4.4"/><circle cx="455.2" cy="1344.5" r="4.4"/><circle cx="457.6" cy="1340.2" r="4.4"/><circle cx="460.6" cy="1332.4" r="4.4"/><circle cx="464.2" cy="1331.2" r="4.4"/><circle cx="468" cy="1328.1" r="4.4"/><circle cx="474.8" cy="1326" r="4.4"/><circle cx="479.6" cy="1323.6" r="4.4"/><circle cx="483.9" cy="1320.8" r="4.4"/><circle cx="486.6" cy="1315.8" r="4.4"/><circle cx="485.4" cy="1311.4" r="4.4"/><circle cx="486.6" cy="1306.5" r="4.4"/><circle cx="489" cy="1301.8" r="4.4"/><circle cx="491.2" cy="1296" r="4.4"/><circle cx="494.5" cy="1291" r="4.4"/><circle cx="491.3" cy="1287.7" r="4.4"/><circle cx="484.9" cy="1288" r="4.4"/><circle cx="481.8" cy="1290.5" r="4.4"/><circle cx="474.2" cy="1292.9" r="4.4"/><circle cx="470.7" cy="1294.1" r="4.4"/><circle cx="465.4" cy="1298.2" r="4.4"/><circle cx="459.7" cy="1298.5" r="4.4"/><circle cx="456.1" cy="1302" r="4.4"/><circle cx="451.8" cy="1308.1" r="4.4"/><circle cx="447" cy="1310.7" r="4.4"/><circle cx="445.5" cy="1316.4" r="4.4"/><circle cx="440" cy="1318.4" r="4.4"/><circle cx="436.2" cy="1322.2" r="4.4"/><circle cx="434.1" cy="1325.6" r="4.4"/><circle cx="429.5" cy="1328.9" r="4.4"/><circle cx="425.4" cy="1335.3" r="4.4"/><circle cx="422.3" cy="1339.8" r="4.4"/><circle cx="418.1" cy="1343.4" r="4.4"/><circle cx="415" cy="1345.8" r="4.4"/><circle cx="413.2" cy="1352.4" r="4.4"/><circle cx="408.5" cy="1353.6" r="4.4"/><circle cx="404.6" cy="1357.8" r="4.4"/><circle cx="399.5" cy="1360.6" r="4.4"/><circle cx="393" cy="1363.9" r="4.4"/><circle cx="390.9" cy="1366.1" r="4.4"/><circle cx="386.9" cy="1371.9" r="4.4"/><circle cx="384.7" cy="1376.6" r="4.4"/><circle cx="380.5" cy="1380" r="4.4"/><circle cx="377.1" cy="1385.7" r="4.4"/><circle cx="373.4" cy="1388.7" r="4.4"/><circle cx="369.3" cy="1392.8" r="4.4"/><circle cx="368.1" cy="1397.7" r="4.4"/><circle cx="361.8" cy="1401.7" r="4.4"/><circle cx="358.6" cy="1402.9" r="4.4"/><circle cx="353.8" cy="1406.1" r="4.4"/><circle cx="347.2" cy="1407.1" r="4.4"/><circle cx="342.1" cy="1408" r="4.4"/><circle cx="336" cy="1408.6" r="4.4"/><circle cx="330.6" cy="1409.2" r="4.4"/><circle cx="325.1" cy="1407.8" r="4.4"/><circle cx="319" cy="1407.4" r="4.4"/><circle cx="314.2" cy="1407.7" r="4.4"/><circle cx="310.1" cy="1410.2" r="4.4"/><circle cx="305.4" cy="1411.8" r="4.4"/><circle cx="304" cy="1417.8" r="4.4"/><circle cx="298.2" cy="1422" r="4.4"/><circle cx="291.9" cy="1422.3" r="4.4"/><circle cx="287.3" cy="1423.2" r="4.4"/><circle cx="281.5" cy="1426.6" r="4.4"/><circle cx="276.8" cy="1427" r="4.4"/><circle cx="271" cy="1431.5" r="4.4"/><circle cx="268" cy="1431.5" r="4.4"/><circle cx="260.3" cy="1434.8" r="4.4"/><circle cx="257.9" cy="1436.1" r="4.4"/><circle cx="253" cy="1438.2" r="4.4"/><circle cx="246.5" cy="1443.6" r="4.4"/><circle cx="243.2" cy="1444.2" r="4.4"/><circle cx="236.2" cy="1445" r="4.4"/><circle cx="231.1" cy="1444.5" r="4.4"/><circle cx="226.4" cy="1444.1" r="4.4"/><circle cx="218.9" cy="1446.2" r="4.4"/><circle cx="339" cy="1407.7" r="4.4"/><circle cx="327.3" cy="1400.9" r="4.4"/><circle cx="323" cy="1400.2" r="4.4"/><circle cx="314.3" cy="1409.4" r="4.4"/><circle cx="322.7" cy="1387.1" r="4.4"/><circle cx="324.6" cy="1407.2" r="4.4"/><circle cx="321.1" cy="1383.3" r="4.4"/><circle cx="345.2" cy="1397.1" r="4.4"/><circle cx="368.1" cy="1397.8" r="4.4"/><circle cx="346.7" cy="1400.6" r="4.4"/><circle cx="368.9" cy="1395.2" r="4.4"/><circle cx="312.5" cy="1396.1" r="4.4"/><circle cx="326.7" cy="1409.6" r="4.4"/><circle cx="367.4" cy="1398.2" r="4.4"/><circle cx="316.3" cy="1386" r="4.4"/><circle cx="322.4" cy="1383.3" r="4.4"/><circle cx="303" cy="1414.9" r="4.4"/><circle cx="308.1" cy="1411.4" r="4.4"/><circle cx="352" cy="1394.4" r="4.4"/><circle cx="353.4" cy="1403.3" r="4.4"/><circle cx="314.2" cy="1388.3" r="4.4"/><circle cx="316.5" cy="1398.4" r="4.4"/><circle cx="342.7" cy="1392.9" r="4.4"/><circle cx="302.4" cy="1405.2" r="4.4"/><circle cx="341.7" cy="1397.2" r="4.4"/><circle cx="314.7" cy="1411.3" r="4.4"/><circle cx="305.3" cy="1413" r="4.4"/><circle cx="356.7" cy="1397.6" r="4.4"/><circle cx="308.3" cy="1412" r="4.4"/><circle cx="363.8" cy="1398.2" r="4.4"/><circle cx="328.2" cy="1394.5" r="4.4"/><circle cx="350.2" cy="1405.3" r="4.4"/><circle cx="357.1" cy="1399.4" r="4.4"/><circle cx="347.9" cy="1397.1" r="4.4"/><circle cx="306.3" cy="1415.2" r="4.4"/><circle cx="334.9" cy="1395.6" r="4.4"/><circle cx="306.5" cy="1396.2" r="4.4"/><circle cx="335.1" cy="1402" r="4.4"/><circle cx="367.7" cy="1398.9" r="4.4"/><circle cx="341.7" cy="1403.9" r="4.4"/><circle cx="324" cy="1410.5" r="4.4"/><circle cx="183" cy="1447.1" r="4.4"/><circle cx="203.9" cy="1456" r="4.4"/><circle cx="211.9" cy="1455" r="4.4"/><circle cx="237.7" cy="1464" r="4.4"/><circle cx="244.7" cy="1418.2" r="4.4"/><circle cx="254.6" cy="1406.3" r="4.4"/><circle cx="287.5" cy="1393.3" r="4.4"/><circle cx="283.5" cy="1398.3" r="4.4"/><circle cx="263.6" cy="1342.6" r="4.4"/><circle cx="285.5" cy="1342.6" r="4.4"/><circle cx="323.3" cy="1342.6" r="4.4"/><circle cx="328.3" cy="1342.6" r="4.4"/><circle cx="328.3" cy="1327.6" r="4.4"/><circle cx="353.2" cy="1379.4" r="4.4"/><circle cx="421.9" cy="1331.6" r="4.4"/><circle cx="438.8" cy="1319.7" r="4.4"/><circle cx="458.7" cy="1292.8" r="4.4"/><circle cx="474.6" cy="1287.8" r="4.4"/><circle cx="510.4" cy="1286.8" r="4.4"/><circle cx="504.5" cy="1296.8" r="4.4"/><circle cx="500.5" cy="1308.7" r="4.4"/><circle cx="472.6" cy="1367.4" r="4.4"/><circle cx="450.7" cy="1354.5" r="4.4"/><circle cx="444.8" cy="1370.4" r="4.4"/><circle cx="439.8" cy="1379.4" r="4.4"/><circle cx="428.8" cy="1387.4" r="4.4"/><circle cx="426.8" cy="1393.3" r="4.4"/><circle cx="418.9" cy="1399.3" r="4.4"/><circle cx="426.8" cy="1407.3" r="4.4"/><circle cx="426.8" cy="1419.2" r="4.4"/><circle cx="447.7" cy="1403.3" r="4.4"/><circle cx="406.9" cy="1421.2" r="4.4"/><circle cx="395" cy="1431.1" r="4.4"/><circle cx="367.1" cy="1446.1" r="4.4"/><circle cx="301.4" cy="1397.3" r="4.4"/><circle cx="303.4" cy="1405.3" r="4.4"/><circle cx="311.4" cy="1393.3" r="4.4"/><circle cx="319.3" cy="1397.3" r="4.4"/><circle cx="327.3" cy="1381.4" r="4.4"/><circle cx="331.3" cy="1389.3" r="4.4"/><circle cx="339.3" cy="1393.3" r="4.4"/><circle cx="345.2" cy="1401.3" r="4.4"/><circle cx="331.3" cy="1401.3" r="4.4"/><circle cx="315.4" cy="1409.3" r="4.4"/><circle cx="291.5" cy="1415.2" r="4.4"/><circle cx="307.4" cy="1413.2" r="4.4"/><circle cx="355.2" cy="1397.3" r="4.4"/><circle cx="367.1" cy="1393.3" r="4.4"/><circle cx="359.2" cy="1401.3" r="4.4"/><circle cx="126.7" cy="1446.7" r="4.4"/><circle cx="181.8" cy="1447.9" r="4.4"/><circle cx="204" cy="1456.1" r="4.4"/><circle cx="211.8" cy="1455.4" r="4.4"/><circle cx="216.4" cy="1444.4" r="4.4"/><circle cx="245" cy="1417.5" r="4.4"/><circle cx="254.8" cy="1406.2" r="4.4"/><circle cx="238" cy="1463.1" r="4.4"/><circle cx="447.6" cy="1403.4" r="4.4"/><circle cx="426.5" cy="1419.8" r="4.4"/><circle cx="625.1" cy="1146.2" r="4.4"/><circle cx="639.1" cy="1150.4" r="4.4"/><circle cx="632.1" cy="1158.8" r="4.4"/><circle cx="640.5" cy="1158.8" r="4.4"/><circle cx="636" cy="1154" r="4.4"/><circle cx="645" cy="1152" r="4.4"/><circle cx="651" cy="1150.4" r="4.4"/><circle cx="656" cy="1139.2" r="4.4"/><circle cx="663" cy="1134.3" r="4.4"/><circle cx="666.5" cy="1140.6" r="4.4"/><circle cx="667.2" cy="1149" r="4.4"/><circle cx="676.3" cy="1146.9" r="4.4"/><circle cx="660.2" cy="1146.2" r="4.4"/><circle cx="671" cy="1147" r="4.4"/><circle cx="658" cy="1145" r="4.4"/><circle cx="674.2" cy="1209.4" r="4.4"/><circle cx="657.4" cy="1140.6" r="4.4"/><circle cx="661.6" cy="1143.4" r="4.4"/><circle cx="668.6" cy="1146.2" r="4.4"/><circle cx="664.4" cy="1149" r="4.4"/><circle cx="672.8" cy="1149" r="4.4"/><circle cx="654.6" cy="1146.2" r="4.4"/><circle cx="660.2" cy="1137.8" r="4.4"/><circle cx="648.9" cy="1149" r="4.4"/><circle cx="634.9" cy="1154.6" r="4.4"/><circle cx="640.5" cy="1154.6" r="4.4"/><circle cx="637.7" cy="1150.4" r="4.4"/><circle cx="633.5" cy="1160.3" r="4.4"/><circle cx="641.9" cy="1160.3" r="4.4"/><circle cx="658.8" cy="1150.4" r="4.4"/><circle cx="665.8" cy="1151.8" r="4.4"/><circle cx="674.2" cy="1144.8" r="4.4"/><circle cx="663" cy="1133.6" r="4.4"/><circle cx="667.2" cy="1139.2" r="4.4"/></g><line x1="276.6" y1="1481.9" x2="676.3" y2="1123.4" stroke="#2318c4" stroke-width="2.2" clip-path="url(#ce)"/><path d="M106.3 1481.9v3M120.8 1481.9v3M131.1 1481.9v3M139.1 1481.9v3M145.6 1481.9v3M151.1 1481.9v3M155.8 1481.9v3M160 1481.9v3M163.8 1481.9v5M188.5 1481.9v3M203 1481.9v3M213.3 1481.9v3M221.3 1481.9v3M227.8 1481.9v3M233.3 1481.9v3M238 1481.9v3M242.2 1481.9v3M246 1481.9v5M270.7 1481.9v3M285.2 1481.9v3M98.7 1475.6h-3M295.5 1481.9v3M98.7 1466.3h-3M303.5 1481.9v3M98.7 1459.2h-3M310 1481.9v3M98.7 1453.3h-3M315.5 1481.9v3M98.7 1448.4h-3M320.2 1481.9v3M98.7 1444.1h-3M324.4 1481.9v3M98.7 1440.3h-3M328.2 1481.9v5M98.7 1436.9h-5M352.9 1481.9v3M98.7 1414.6h-3M367.4 1481.9v3M98.7 1401.6h-3M377.7 1481.9v3M98.7 1392.4h-3M385.7 1481.9v3M98.7 1385.2h-3M392.2 1481.9v3M98.7 1379.3h-3M397.7 1481.9v3M98.7 1374.4h-3M402.4 1481.9v3M98.7 1370.1h-3M406.6 1481.9v3M98.7 1366.3h-3M410.4 1481.9v5M98.7 1362.9h-5M435.1 1481.9v3M98.7 1340.6h-3M449.6 1481.9v3M98.7 1327.6h-3M459.9 1481.9v3M98.7 1318.4h-3M467.9 1481.9v3M98.7 1311.2h-3M474.4 1481.9v3M98.7 1305.4h-3M479.9 1481.9v3M98.7 1300.4h-3M484.6 1481.9v3M98.7 1296.1h-3M488.8 1481.9v3M98.7 1292.3h-3M492.6 1481.9v5M98.7 1288.9h-5M517.3 1481.9v3M98.7 1266.7h-3M531.8 1481.9v3M98.7 1253.6h-3M542.1 1481.9v3M98.7 1244.4h-3M550.1 1481.9v3M98.7 1237.2h-3M556.6 1481.9v3M98.7 1231.4h-3M562.1 1481.9v3M98.7 1226.4h-3M566.8 1481.9v3M98.7 1222.1h-3M571 1481.9v3M98.7 1218.3h-3M574.8 1481.9v5M98.7 1215h-5M599.5 1481.9v3M98.7 1192.7h-3M614 1481.9v3M98.7 1179.7h-3M624.3 1481.9v3M98.7 1170.4h-3M632.3 1481.9v3M98.7 1163.3h-3M638.8 1481.9v3M98.7 1157.4h-3M644.3 1481.9v3M98.7 1152.4h-3M649 1481.9v3M98.7 1148.1h-3M653.2 1481.9v3M98.7 1144.4h-3M657 1481.9v5M98.7 1141h-5M681.7 1481.9v3M98.7 1118.7h-3M696.2 1481.9v3" stroke="#444" stroke-width="1.3" fill="none"/><rect x="98.7" y="1107" width="605" height="374.9" fill="none" stroke="#555" stroke-width="2"/><text x="163.8" y="1504.9" text-anchor="middle">10<tspan font-size="9.92" dy="-5.1">−2</tspan></text><text x="246" y="1504.9" text-anchor="middle">10<tspan font-size="9.92" dy="-5.1">−1</tspan></text><text x="328.2" y="1504.9" text-anchor="middle">10<tspan font-size="9.92" dy="-5.1">0</tspan></text><text x="410.4" y="1504.9" text-anchor="middle">10<tspan font-size="9.92" dy="-5.1">1</tspan></text><text x="492.6" y="1504.9" text-anchor="middle">10<tspan font-size="9.92" dy="-5.1">2</tspan></text><text x="574.8" y="1504.9" text-anchor="middle">10<tspan font-size="9.92" dy="-5.1">3</tspan></text><text x="657" y="1504.9" text-anchor="middle">10<tspan font-size="9.92" dy="-5.1">4</tspan></text><text x="86.7" y="1442.5" text-anchor="end">10<tspan font-size="9.92" dy="-5.1">0</tspan></text><text x="86.7" y="1368.5" text-anchor="end">10<tspan font-size="9.92" dy="-5.1">1</tspan></text><text x="86.7" y="1294.5" text-anchor="end">10<tspan font-size="9.92" dy="-5.1">2</tspan></text><text x="86.7" y="1220.5" text-anchor="end">10<tspan font-size="9.92" dy="-5.1">3</tspan></text><text x="86.7" y="1146.6" text-anchor="end">10<tspan font-size="9.92" dy="-5.1">4</tspan></text></g>
<text x="401.2" y="1098.3" text-anchor="middle" font-family="'DejaVu Sans', 'Liberation Sans', sans-serif" font-size="20.35" fill="#1a1a1a">K Neighbors Regressor</text>
<text x="401.2" y="1530.4" text-anchor="middle" font-family="'DejaVu Sans', 'Liberation Sans', sans-serif" font-size="20.2" fill="#1a1a1a">Actual Values</text>
<text transform="translate(53.8,1294.5) rotate(-90)" text-anchor="middle" font-family="'DejaVu Sans', 'Liberation Sans', sans-serif" font-size="20.2" fill="#1a1a1a">Predicted Values</text>
<text x="1" y="1171.2" font-family="'Liberation Sans', Arial, sans-serif" font-size="25.5" fill="#111">e)</text>
<g font-family="'DejaVu Sans', 'Liberation Sans', sans-serif" font-size="12.4" fill="#1a1a1a"><clipPath id="cf"><rect x="1017.5" y="1107.2" width="605.1" height="374.7"/></clipPath><g clip-path="url(#cf)" fill="#dc143c"><polygon points="1145.1,1393.4 1145.9,1393.9 1154,1390.6 1161.6,1383.1 1161.8,1382.9 1162.1,1382.7 1162.3,1382.5 1162.6,1382.4 1178.6,1376.4 1178.8,1376.3 1179.1,1376.3 1179.4,1376.2 1179.7,1376.2 1180,1376.3 1195.4,1378.2 1210.4,1374.4 1225.8,1366.7 1241.5,1354.9 1241.7,1354.8 1257.7,1344.8 1258,1344.7 1258.3,1344.5 1268.8,1341 1272.3,1330.5 1272.4,1330.2 1272.6,1330 1272.7,1329.7 1272.9,1329.5 1273.1,1329.3 1273.4,1329.1 1289.3,1317.1 1289.4,1317.1 1309.1,1303.3 1320.8,1291.5 1321.1,1291.3 1321.3,1291.1 1321.6,1291 1341.5,1281 1341.8,1280.9 1357.4,1275 1373.1,1265.2 1385,1257.3 1385.2,1257.2 1385.5,1257 1385.7,1256.9 1386,1256.9 1386.3,1256.8 1400.8,1255 1408,1244.2 1408.2,1244 1408.4,1243.7 1408.7,1243.5 1408.9,1243.3 1424.6,1233.6 1427.7,1230.4 1426,1229.3 1415.5,1232.8 1399.8,1238.7 1384.2,1246.5 1372.4,1254.4 1372.3,1254.4 1356.4,1264.4 1356.1,1264.5 1355.9,1264.6 1340.1,1270.5 1324.3,1278.4 1292.4,1294.4 1276.5,1302.3 1260.6,1310.3 1260.4,1310.4 1240.7,1318.2 1225,1328.1 1209.1,1338 1208.8,1338.1 1192.9,1346.1 1192.6,1346.2 1177.2,1352 1161.7,1365.6 1161.5,1365.8 1161.2,1365.9 1161,1366.1 1160.7,1366.2 1160.4,1366.3 1160.1,1366.3 1148.5,1368" stroke="#dc143c" stroke-width="2" stroke-linejoin="round"/><circle cx="1145.8" cy="1393.5" r="4.3"/><circle cx="1153" cy="1391.7" r="4.3"/><circle cx="1155.8" cy="1390.2" r="4.3"/><circle cx="1158" cy="1385.1" r="4.3"/><circle cx="1162.5" cy="1381.4" r="4.3"/><circle cx="1168.6" cy="1380.5" r="4.3"/><circle cx="1173.6" cy="1378.2" r="4.3"/><circle cx="1180.6" cy="1375.8" r="4.3"/><circle cx="1185.1" cy="1377.8" r="4.3"/><circle cx="1190.1" cy="1377.9" r="4.3"/><circle cx="1194.4" cy="1376.3" r="4.3"/><circle cx="1199.2" cy="1377.6" r="4.3"/><circle cx="1207.3" cy="1375.6" r="4.3"/><circle cx="1211.4" cy="1375.3" r="4.3"/><circle cx="1215.3" cy="1373" r="4.3"/><circle cx="1221.3" cy="1367.8" r="4.3"/><circle cx="1224.6" cy="1365.3" r="4.3"/><circle cx="1228.3" cy="1364" r="4.3"/><circle cx="1232.6" cy="1360.5" r="4.3"/><circle cx="1239.6" cy="1357.6" r="4.3"/><circle cx="1243.9" cy="1354.5" r="4.3"/><circle cx="1246" cy="1350.9" r="4.3"/><circle cx="1251.2" cy="1347" r="4.3"/><circle cx="1254.5" cy="1344.9" r="4.3"/><circle cx="1261.7" cy="1343.7" r="4.3"/><circle cx="1266" cy="1340.4" r="4.3"/><circle cx="1267.7" cy="1339" r="4.3"/><circle cx="1269.7" cy="1333.8" r="4.3"/><circle cx="1273.1" cy="1327.7" r="4.3"/><circle cx="1278.5" cy="1324.3" r="4.3"/><circle cx="1282" cy="1321.8" r="4.3"/><circle cx="1287.4" cy="1317.4" r="4.3"/><circle cx="1291.9" cy="1314.5" r="4.3"/><circle cx="1296.9" cy="1312.5" r="4.3"/><circle cx="1301.2" cy="1309.4" r="4.3"/><circle cx="1305.7" cy="1307.1" r="4.3"/><circle cx="1308.7" cy="1303.7" r="4.3"/><circle cx="1312.2" cy="1298.7" r="4.3"/><circle cx="1314.6" cy="1295.1" r="4.3"/><circle cx="1321.4" cy="1292.4" r="4.3"/><circle cx="1323.7" cy="1289.4" r="4.3"/><circle cx="1328.1" cy="1286" r="4.3"/><circle cx="1334.6" cy="1283.1" r="4.3"/><circle cx="1340.8" cy="1281.6" r="4.3"/><circle cx="1345.5" cy="1278.5" r="4.3"/><circle cx="1349" cy="1278.9" r="4.3"/><circle cx="1355.5" cy="1275.6" r="4.3"/><circle cx="1357.3" cy="1272.9" r="4.3"/><circle cx="1361.7" cy="1270.1" r="4.3"/><circle cx="1368.8" cy="1266.2" r="4.3"/><circle cx="1372.1" cy="1264" r="4.3"/><circle cx="1377" cy="1263" r="4.3"/><circle cx="1381.1" cy="1257.7" r="4.3"/><circle cx="1385.9" cy="1257.3" r="4.3"/><circle cx="1392.1" cy="1256.6" r="4.3"/><circle cx="1397.2" cy="1254.5" r="4.3"/><circle cx="1402.1" cy="1252.9" r="4.3"/><circle cx="1406.1" cy="1249.1" r="4.3"/><circle cx="1408.9" cy="1244" r="4.3"/><circle cx="1411.1" cy="1241.3" r="4.3"/><circle cx="1414.9" cy="1238.4" r="4.3"/><circle cx="1420.1" cy="1236.3" r="4.3"/><circle cx="1425.2" cy="1234.5" r="4.3"/><circle cx="1425.9" cy="1230.3" r="4.3"/><circle cx="1421.6" cy="1230.8" r="4.3"/><circle cx="1416.2" cy="1233.9" r="4.3"/><circle cx="1410.2" cy="1235.3" r="4.3"/><circle cx="1406.2" cy="1235.3" r="4.3"/><circle cx="1400.9" cy="1239.1" r="4.3"/><circle cx="1395" cy="1242.6" r="4.3"/><circle cx="1392" cy="1242.8" r="4.3"/><circle cx="1386.1" cy="1244.7" r="4.3"/><circle cx="1381.5" cy="1248" r="4.3"/><circle cx="1375.2" cy="1251.8" r="4.3"/><circle cx="1372.6" cy="1255.6" r="4.3"/><circle cx="1367.8" cy="1257.6" r="4.3"/><circle cx="1363.9" cy="1261" r="4.3"/><circle cx="1357.8" cy="1262" r="4.3"/><circle cx="1354.6" cy="1266.8" r="4.3"/><circle cx="1348.5" cy="1267.1" r="4.3"/><circle cx="1342.5" cy="1270.3" r="4.3"/><circle cx="1337.9" cy="1270.8" r="4.3"/><circle cx="1335.6" cy="1273.6" r="4.3"/><circle cx="1327.7" cy="1276.1" r="4.3"/><circle cx="1322.9" cy="1279.2" r="4.3"/><circle cx="1319.6" cy="1280.5" r="4.3"/><circle cx="1313.9" cy="1284.6" r="4.3"/><circle cx="1308.3" cy="1285" r="4.3"/><circle cx="1306" cy="1287.2" r="4.3"/><circle cx="1300.4" cy="1292.4" r="4.3"/><circle cx="1296.7" cy="1292.4" r="4.3"/><circle cx="1290" cy="1295.2" r="4.3"/><circle cx="1284.8" cy="1298.1" r="4.3"/><circle cx="1280.4" cy="1301.6" r="4.3"/><circle cx="1276.4" cy="1304.2" r="4.3"/><circle cx="1272.8" cy="1305.5" r="4.3"/><circle cx="1266.8" cy="1306.6" r="4.3"/><circle cx="1260.9" cy="1309.1" r="4.3"/><circle cx="1258.7" cy="1313.1" r="4.3"/><circle cx="1250.8" cy="1315.4" r="4.3"/><circle cx="1247.1" cy="1315.5" r="4.3"/><circle cx="1243.6" cy="1318.7" r="4.3"/><circle cx="1236.2" cy="1321.5" r="4.3"/><circle cx="1233" cy="1321.6" r="4.3"/><circle cx="1228.8" cy="1325.2" r="4.3"/><circle cx="1223.5" cy="1328.7" r="4.3"/><circle cx="1218.1" cy="1332.7" r="4.3"/><circle cx="1215.3" cy="1335.6" r="4.3"/><circle cx="1209.1" cy="1338.7" r="4.3"/><circle cx="1204.7" cy="1339.3" r="4.3"/><circle cx="1200.5" cy="1343.7" r="4.3"/><circle cx="1194.4" cy="1344" r="4.3"/><circle cx="1189.6" cy="1348" r="4.3"/><circle cx="1183.6" cy="1349.3" r="4.3"/><circle cx="1179.1" cy="1350.7" r="4.3"/><circle cx="1175.3" cy="1354.6" r="4.3"/><circle cx="1173.6" cy="1357.3" r="4.3"/><circle cx="1167.2" cy="1359.5" r="4.3"/><circle cx="1163.4" cy="1363.1" r="4.3"/><circle cx="1159.4" cy="1365.2" r="4.3"/><circle cx="1154.2" cy="1367.8" r="4.3"/><circle cx="1148.6" cy="1366.9" r="4.3"/><circle cx="1148.6" cy="1373.8" r="4.3"/><circle cx="1148.2" cy="1379.1" r="4.3"/><circle cx="1145.9" cy="1383.6" r="4.3"/><circle cx="1146.2" cy="1391.3" r="4.3"/><polygon points="1544.2,1148.7 1546.5,1153.3 1559,1149.2 1573.7,1143.3 1583.4,1137.4 1595,1130.3 1595,1127 1590.8,1127 1576.5,1135.6 1576.3,1135.7 1561.3,1142.7 1561,1142.8" stroke="#dc143c" stroke-width="2" stroke-linejoin="round"/><circle cx="1544.1" cy="1150.2" r="4.3"/><circle cx="1548.1" cy="1151.6" r="4.3"/><circle cx="1554.4" cy="1151.7" r="4.3"/><circle cx="1559.2" cy="1148.6" r="4.3"/><circle cx="1565" cy="1146.4" r="4.3"/><circle cx="1569.8" cy="1144.8" r="4.3"/><circle cx="1574.5" cy="1141.4" r="4.3"/><circle cx="1579" cy="1138.4" r="4.3"/><circle cx="1585.2" cy="1137.3" r="4.3"/><circle cx="1590.7" cy="1134" r="4.3"/><circle cx="1592.9" cy="1130.4" r="4.3"/><circle cx="1593.9" cy="1125.9" r="4.3"/><circle cx="1589.2" cy="1128.4" r="4.3"/><circle cx="1583.2" cy="1131.4" r="4.3"/><circle cx="1579" cy="1132.7" r="4.3"/><circle cx="1572.9" cy="1136.7" r="4.3"/><circle cx="1569.6" cy="1138.4" r="4.3"/><circle cx="1565.9" cy="1142.7" r="4.3"/><circle cx="1558.2" cy="1144.4" r="4.3"/><circle cx="1554.5" cy="1145.2" r="4.3"/><circle cx="1548.6" cy="1147.8" r="4.3"/><circle cx="1102" cy="1372.3" r="4.3"/><circle cx="1122.9" cy="1385.2" r="4.3"/><circle cx="1131.9" cy="1379.3" r="4.3"/><circle cx="1135.8" cy="1379.3" r="4.3"/><circle cx="1149.8" cy="1363.3" r="4.3"/><circle cx="1174.6" cy="1344.4" r="4.3"/><circle cx="1190.6" cy="1333.5" r="4.3"/><circle cx="1212.5" cy="1315.6" r="4.3"/><circle cx="1231.4" cy="1305.6" r="4.3"/><circle cx="1237.4" cy="1301.6" r="4.3"/><circle cx="1215.5" cy="1283.7" r="4.3"/><circle cx="1246.3" cy="1282.7" r="4.3"/><circle cx="1250.3" cy="1282.7" r="4.3"/><circle cx="1263.2" cy="1286.7" r="4.3"/><circle cx="1271.2" cy="1288.7" r="4.3"/><circle cx="1275.2" cy="1295.6" r="4.3"/><circle cx="1182.6" cy="1268.8" r="4.3"/><circle cx="1291.1" cy="1257.8" r="4.3"/><circle cx="1353.8" cy="1246.9" r="4.3"/><circle cx="1326.9" cy="1266.8" r="4.3"/><circle cx="1303" cy="1277.7" r="4.3"/><circle cx="1299.1" cy="1283.7" r="4.3"/><circle cx="1330.9" cy="1300.6" r="4.3"/><circle cx="1317" cy="1307.6" r="4.3"/><circle cx="1323" cy="1320.5" r="4.3"/><circle cx="1300.1" cy="1326.5" r="4.3"/><circle cx="1361.8" cy="1288.7" r="4.3"/><circle cx="1390.6" cy="1274.7" r="4.3"/><circle cx="1402.6" cy="1255.8" r="4.3"/><circle cx="1418.5" cy="1237.9" r="4.3"/><circle cx="1267.2" cy="1343.4" r="4.3"/><circle cx="1223.4" cy="1369.3" r="4.3"/><circle cx="1207.5" cy="1378.3" r="4.3"/><circle cx="1187.6" cy="1377.3" r="4.3"/><circle cx="1157.7" cy="1389.2" r="4.3"/><circle cx="1143.8" cy="1397.2" r="4.3"/><circle cx="1044.7" cy="1391.7" r="4.3"/><circle cx="1122.7" cy="1384.7" r="4.3"/><circle cx="1133.2" cy="1382.3" r="4.3"/><circle cx="1144.9" cy="1394" r="4.3"/><circle cx="1157.8" cy="1389.4" r="4.3"/><circle cx="1143.7" cy="1389.4" r="4.3"/><circle cx="1269" cy="1203.4" r="4.3"/><circle cx="1343.6" cy="1194.4" r="4.3"/><circle cx="1289.5" cy="1218.2" r="4.3"/><circle cx="1296.1" cy="1218.2" r="4.3"/><circle cx="1182.1" cy="1269" r="4.3"/><circle cx="1214.9" cy="1283" r="4.3"/><circle cx="1246.1" cy="1282.1" r="4.3"/><circle cx="1249.3" cy="1282.1" r="4.3"/><circle cx="1291.1" cy="1258.4" r="4.3"/><circle cx="1354.3" cy="1246.9" r="4.3"/><circle cx="1387.9" cy="1223.1" r="4.3"/><circle cx="1401" cy="1223.1" r="4.3"/><circle cx="1405.9" cy="1223.1" r="4.3"/><circle cx="1414.9" cy="1220.7" r="4.3"/><circle cx="1391.1" cy="1274.8" r="4.3"/><circle cx="1361.6" cy="1288.7" r="4.3"/><circle cx="1264.9" cy="1286.2" r="4.3"/><circle cx="1271.5" cy="1289.5" r="4.3"/><circle cx="1302.6" cy="1277.2" r="4.3"/><circle cx="1326.4" cy="1266.6" r="4.3"/><circle cx="1376.4" cy="1246.1" r="4.3"/><circle cx="1429.7" cy="1228.9" r="4.3"/><circle cx="1419" cy="1235.4" r="4.3"/><circle cx="1543.4" cy="1151.8" r="4.3"/><circle cx="1550" cy="1150" r="4.3"/><circle cx="1558" cy="1146" r="4.3"/><circle cx="1566" cy="1143" r="4.3"/><circle cx="1572" cy="1140" r="4.3"/><circle cx="1574.4" cy="1144.1" r="4.3"/><circle cx="1580" cy="1136" r="4.3"/><circle cx="1585" cy="1131" r="4.3"/><circle cx="1590" cy="1128" r="4.3"/><circle cx="1595.4" cy="1127.9" r="4.3"/><circle cx="1593.3" cy="1240.1" r="4.3"/></g><line x1="1017.5" y1="1472" x2="1594.7" y2="1123.4" stroke="#2318c4" stroke-width="2.2" clip-path="url(#cf)"/><path d="M1024.4 1481.9v3M1017.5 1469.6h-3M1038.9 1481.9v3M1017.5 1460.9h-3M1049.2 1481.9v3M1017.5 1454.7h-3M1057.2 1481.9v3M1017.5 1449.9h-3M1063.7 1481.9v3M1017.5 1445.9h-3M1069.2 1481.9v3M1017.5 1442.6h-3M1074 1481.9v3M1017.5 1439.7h-3M1078.2 1481.9v3M1017.5 1437.2h-3M1082 1481.9v5M1017.5 1434.9h-5M1106.8 1481.9v3M1017.5 1419.9h-3M1121.3 1481.9v3M1017.5 1411.2h-3M1131.6 1481.9v3M1017.5 1405h-3M1139.6 1481.9v3M1017.5 1400.2h-3M1146.1 1481.9v3M1017.5 1396.2h-3M1151.6 1481.9v3M1017.5 1392.9h-3M1156.4 1481.9v3M1017.5 1390h-3M1160.6 1481.9v3M1017.5 1387.5h-3M1164.4 1481.9v5M1017.5 1385.2h-5M1189.2 1481.9v3M1017.5 1370.2h-3M1203.7 1481.9v3M1017.5 1361.5h-3M1214 1481.9v3M1017.5 1355.3h-3M1222 1481.9v3M1017.5 1350.5h-3M1228.5 1481.9v3M1017.5 1346.5h-3M1234 1481.9v3M1017.5 1343.2h-3M1238.8 1481.9v3M1017.5 1340.3h-3M1243 1481.9v3M1017.5 1337.8h-3M1246.8 1481.9v5M1017.5 1335.5h-5M1271.6 1481.9v3M1017.5 1320.5h-3M1286.1 1481.9v3M1017.5 1311.8h-3M1296.4 1481.9v3M1017.5 1305.6h-3M1304.4 1481.9v3M1017.5 1300.8h-3M1310.9 1481.9v3M1017.5 1296.8h-3M1316.4 1481.9v3M1017.5 1293.5h-3M1321.2 1481.9v3M1017.5 1290.6h-3M1325.4 1481.9v3M1017.5 1288.1h-3M1329.2 1481.9v5M1017.5 1285.8h-5M1354 1481.9v3M1017.5 1270.8h-3M1368.5 1481.9v3M1017.5 1262.1h-3M1378.8 1481.9v3M1017.5 1255.9h-3M1386.8 1481.9v3M1017.5 1251.1h-3M1393.3 1481.9v3M1017.5 1247.1h-3M1398.8 1481.9v3M1017.5 1243.8h-3M1403.6 1481.9v3M1017.5 1240.9h-3M1407.8 1481.9v3M1017.5 1238.4h-3M1411.6 1481.9v5M1017.5 1236.1h-5M1436.4 1481.9v3M1017.5 1221.1h-3M1450.9 1481.9v3M1017.5 1212.4h-3M1461.2 1481.9v3M1017.5 1206.2h-3M1469.2 1481.9v3M1017.5 1201.4h-3M1475.7 1481.9v3M1017.5 1197.4h-3M1481.2 1481.9v3M1017.5 1194.1h-3M1486 1481.9v3M1017.5 1191.2h-3M1490.2 1481.9v3M1017.5 1188.7h-3M1494 1481.9v5M1017.5 1186.4h-5M1518.8 1481.9v3M1017.5 1171.4h-3M1533.3 1481.9v3M1017.5 1162.7h-3M1543.6 1481.9v3M1017.5 1156.5h-3M1551.6 1481.9v3M1017.5 1151.7h-3M1558.1 1481.9v3M1017.5 1147.7h-3M1563.6 1481.9v3M1017.5 1144.4h-3M1568.4 1481.9v3M1017.5 1141.5h-3M1572.6 1481.9v3M1017.5 1139h-3M1576.4 1481.9v5M1017.5 1136.7h-5M1601.2 1481.9v3M1017.5 1121.7h-3M1615.7 1481.9v3M1017.5 1113h-3M1017.5 1106.8h-3" stroke="#444" stroke-width="1.3" fill="none"/><rect x="1017.5" y="1107.2" width="605.1" height="374.7" fill="none" stroke="#555" stroke-width="2"/><text x="1082" y="1504.9" text-anchor="middle">10<tspan font-size="9.92" dy="-5.1">−2</tspan></text><text x="1164.4" y="1504.9" text-anchor="middle">10<tspan font-size="9.92" dy="-5.1">−1</tspan></text><text x="1246.8" y="1504.9" text-anchor="middle">10<tspan font-size="9.92" dy="-5.1">0</tspan></text><text x="1329.2" y="1504.9" text-anchor="middle">10<tspan font-size="9.92" dy="-5.1">1</tspan></text><text x="1411.6" y="1504.9" text-anchor="middle">10<tspan font-size="9.92" dy="-5.1">2</tspan></text><text x="1494" y="1504.9" text-anchor="middle">10<tspan font-size="9.92" dy="-5.1">3</tspan></text><text x="1576.4" y="1504.9" text-anchor="middle">10<tspan font-size="9.92" dy="-5.1">4</tspan></text><text x="1005.5" y="1440.5" text-anchor="end">10<tspan font-size="9.92" dy="-5.1">−2</tspan></text><text x="1005.5" y="1390.8" text-anchor="end">10<tspan font-size="9.92" dy="-5.1">−1</tspan></text><text x="1005.5" y="1341.1" text-anchor="end">10<tspan font-size="9.92" dy="-5.1">0</tspan></text><text x="1005.5" y="1291.4" text-anchor="end">10<tspan font-size="9.92" dy="-5.1">1</tspan></text><text x="1005.5" y="1241.7" text-anchor="end">10<tspan font-size="9.92" dy="-5.1">2</tspan></text><text x="1005.5" y="1192" text-anchor="end">10<tspan font-size="9.92" dy="-5.1">3</tspan></text><text x="1005.5" y="1142.3" text-anchor="end">10<tspan font-size="9.92" dy="-5.1">4</tspan></text></g>
<text x="1320" y="1098.5" text-anchor="middle" font-family="'DejaVu Sans', 'Liberation Sans', sans-serif" font-size="20.4" fill="#1a1a1a">Random Forest Regressor</text>
<text x="1320" y="1530.4" text-anchor="middle" font-family="'DejaVu Sans', 'Liberation Sans', sans-serif" font-size="20.2" fill="#1a1a1a">Actual Values</text>
<text transform="translate(965.2,1294.6) rotate(-90)" text-anchor="middle" font-family="'DejaVu Sans', 'Liberation Sans', sans-serif" font-size="20.2" fill="#1a1a1a">Predicted Values</text>
<text x="874" y="1151.2" font-family="'Liberation Sans', Arial, sans-serif" font-size="25.5" fill="#111">f)</text>
<g font-family="'DejaVu Sans', 'Liberation Sans', sans-serif" font-size="15.0" fill="#1a1a1a"><clipPath id="cg"><rect x="492.7" y="1649.6" width="737.3" height="456.9"/></clipPath><g clip-path="url(#cg)" fill="#dc143c"><polygon points="648.3,2073.1 648.3,2074.6 653,2075.8 660.9,2069.8 661.1,2069.7 675.1,2060.4 675.5,2060.2 675.9,2060 676.2,2059.9 676.6,2059.8 677,2059.7 677.4,2059.7 677.8,2059.7 693.5,2062 710.9,2057.6 728.7,2046.5 742.5,2032.7 742.7,2032.6 761.3,2016.3 775.3,2002.3 775.5,2002.1 775.7,2001.9 791.8,1990.4 807.9,1972 808.1,1971.8 808.4,1971.5 808.7,1971.3 809,1971.1 809.3,1971 832.1,1961.9 855,1941.3 878.5,1920.2 878.8,1919.9 902.1,1903.6 920.6,1887.4 920.9,1887.1 921.2,1887 944.6,1872.9 945,1872.7 945.4,1872.6 957.4,1868.6 961.6,1849.6 961.7,1849.2 961.8,1848.9 962,1848.5 962.2,1848.2 962.5,1847.9 962.8,1847.6 963.1,1847.3 985.8,1830.8 971.5,1835.3 953,1844.5 934.4,1853.8 915.9,1865.4 915.7,1865.5 899.3,1874.9 898.9,1875.1 882.7,1882 866.8,1891.1 848.4,1904.9 832.2,1921.1 831.9,1921.4 831.6,1921.6 831.2,1921.8 830.9,1922 812.1,1929 811.8,1929.1 811.5,1929.2 811.2,1929.2 789.1,1931.4 766.7,1953.9 766.4,1954.1 752.3,1965.8 752,1966.1 751.7,1966.3 751.3,1966.4 750.9,1966.6 726.5,1973.2 718,1986.1 717.7,1986.4 717.4,1986.7 717.1,1987 698.4,2001 684.7,2012.4 673.2,2026.2 673,2026.5 672.7,2026.7 672.4,2026.9 672.1,2027.1 671.7,2027.3 671.4,2027.4 671,2027.5 670.7,2027.6 652.7,2029.6" stroke="#dc143c" stroke-width="2" stroke-linejoin="round"/><circle cx="648.2" cy="2074.4" r="5.5"/><circle cx="656.3" cy="2074.7" r="5.5"/><circle cx="659.1" cy="2070.6" r="5.5"/><circle cx="666.4" cy="2066.6" r="5.5"/><circle cx="673.6" cy="2061.1" r="5.5"/><circle cx="679" cy="2060.5" r="5.5"/><circle cx="685.1" cy="2059.8" r="5.5"/><circle cx="692.3" cy="2062.5" r="5.5"/><circle cx="698.9" cy="2058.4" r="5.5"/><circle cx="706.8" cy="2058.5" r="5.5"/><circle cx="710" cy="2057" r="5.5"/><circle cx="718.7" cy="2053.3" r="5.5"/><circle cx="723.8" cy="2051.4" r="5.5"/><circle cx="727.7" cy="2044.6" r="5.5"/><circle cx="735.1" cy="2040.8" r="5.5"/><circle cx="739.9" cy="2036.7" r="5.5"/><circle cx="742.3" cy="2030.2" r="5.5"/><circle cx="748.6" cy="2024.7" r="5.5"/><circle cx="752.8" cy="2022.2" r="5.5"/><circle cx="758.3" cy="2016.4" r="5.5"/><circle cx="764.1" cy="2011.2" r="5.5"/><circle cx="769.5" cy="2005.9" r="5.5"/><circle cx="775.7" cy="2002.8" r="5.5"/><circle cx="779.4" cy="1998.4" r="5.5"/><circle cx="786.2" cy="1995.2" r="5.5"/><circle cx="789.6" cy="1990.6" r="5.5"/><circle cx="794.8" cy="1987.8" r="5.5"/><circle cx="800.1" cy="1978.1" r="5.5"/><circle cx="804.2" cy="1972.7" r="5.5"/><circle cx="808" cy="1971.2" r="5.5"/><circle cx="815.1" cy="1969.8" r="5.5"/><circle cx="821.4" cy="1964.3" r="5.5"/><circle cx="830.3" cy="1961.8" r="5.5"/><circle cx="834.2" cy="1959.4" r="5.5"/><circle cx="838.9" cy="1955.4" r="5.5"/><circle cx="844.5" cy="1951.6" r="5.5"/><circle cx="852.2" cy="1945.7" r="5.5"/><circle cx="856" cy="1939.3" r="5.5"/><circle cx="860.2" cy="1938.2" r="5.5"/><circle cx="864.5" cy="1933" r="5.5"/><circle cx="871.4" cy="1925.6" r="5.5"/><circle cx="876.8" cy="1923.4" r="5.5"/><circle cx="880.9" cy="1915.5" r="5.5"/><circle cx="887.6" cy="1914.8" r="5.5"/><circle cx="892.4" cy="1911.6" r="5.5"/><circle cx="897.5" cy="1907.7" r="5.5"/><circle cx="904.5" cy="1901.9" r="5.5"/><circle cx="909.2" cy="1896.3" r="5.5"/><circle cx="913.6" cy="1895" r="5.5"/><circle cx="920.2" cy="1887.2" r="5.5"/><circle cx="925.1" cy="1886.3" r="5.5"/><circle cx="930" cy="1881.6" r="5.5"/><circle cx="935.5" cy="1878.8" r="5.5"/><circle cx="940.2" cy="1872.8" r="5.5"/><circle cx="948.8" cy="1870.1" r="5.5"/><circle cx="956.9" cy="1869.8" r="5.5"/><circle cx="956" cy="1864.9" r="5.5"/><circle cx="961.6" cy="1856.1" r="5.5"/><circle cx="962.9" cy="1849.8" r="5.5"/><circle cx="966.6" cy="1843.9" r="5.5"/><circle cx="970" cy="1842.7" r="5.5"/><circle cx="975.1" cy="1836.2" r="5.5"/><circle cx="981.3" cy="1831.1" r="5.5"/><circle cx="983.5" cy="1832.2" r="5.5"/><circle cx="976" cy="1834.1" r="5.5"/><circle cx="968.3" cy="1835.4" r="5.5"/><circle cx="965.5" cy="1840.7" r="5.5"/><circle cx="957.2" cy="1844.8" r="5.5"/><circle cx="950.2" cy="1844.1" r="5.5"/><circle cx="945" cy="1847.5" r="5.5"/><circle cx="937.1" cy="1851" r="5.5"/><circle cx="931.2" cy="1854.7" r="5.5"/><circle cx="927.4" cy="1860.5" r="5.5"/><circle cx="921.9" cy="1860.2" r="5.5"/><circle cx="915.4" cy="1868.4" r="5.5"/><circle cx="911.7" cy="1869.5" r="5.5"/><circle cx="905.6" cy="1873.7" r="5.5"/><circle cx="898.3" cy="1875.6" r="5.5"/><circle cx="889.5" cy="1877.9" r="5.5"/><circle cx="884.7" cy="1883.7" r="5.5"/><circle cx="879" cy="1882.8" r="5.5"/><circle cx="875.5" cy="1888.9" r="5.5"/><circle cx="865" cy="1891.2" r="5.5"/><circle cx="860.7" cy="1897.5" r="5.5"/><circle cx="856.8" cy="1901.2" r="5.5"/><circle cx="850.2" cy="1905.7" r="5.5"/><circle cx="846.6" cy="1908.1" r="5.5"/><circle cx="841.6" cy="1914.4" r="5.5"/><circle cx="835.5" cy="1919.9" r="5.5"/><circle cx="829.5" cy="1924.3" r="5.5"/><circle cx="822.1" cy="1926.9" r="5.5"/><circle cx="816.2" cy="1926.3" r="5.5"/><circle cx="810.5" cy="1930.6" r="5.5"/><circle cx="805.4" cy="1928.4" r="5.5"/><circle cx="795.6" cy="1931" r="5.5"/><circle cx="789.1" cy="1931" r="5.5"/><circle cx="786.4" cy="1935.4" r="5.5"/><circle cx="778.6" cy="1941.5" r="5.5"/><circle cx="773.5" cy="1946.2" r="5.5"/><circle cx="771.1" cy="1951.1" r="5.5"/><circle cx="763.7" cy="1956.6" r="5.5"/><circle cx="758.2" cy="1959.2" r="5.5"/><circle cx="755.6" cy="1964.7" r="5.5"/><circle cx="747.8" cy="1968.6" r="5.5"/><circle cx="742.5" cy="1968.7" r="5.5"/><circle cx="736.1" cy="1972.1" r="5.5"/><circle cx="728.7" cy="1971.5" r="5.5"/><circle cx="725.2" cy="1978.9" r="5.5"/><circle cx="722.7" cy="1982.4" r="5.5"/><circle cx="713.8" cy="1988.2" r="5.5"/><circle cx="708.9" cy="1992.9" r="5.5"/><circle cx="704.6" cy="1998" r="5.5"/><circle cx="697" cy="2000.6" r="5.5"/><circle cx="694.3" cy="2005.4" r="5.5"/><circle cx="688.8" cy="2008" r="5.5"/><circle cx="684" cy="2016.8" r="5.5"/><circle cx="680.7" cy="2018" r="5.5"/><circle cx="674.9" cy="2024.3" r="5.5"/><circle cx="670.4" cy="2029.5" r="5.5"/><circle cx="660.3" cy="2030.7" r="5.5"/><circle cx="654.1" cy="2027.9" r="5.5"/><circle cx="653.6" cy="2032.6" r="5.5"/><circle cx="650.1" cy="2040.1" r="5.5"/><circle cx="650.1" cy="2049" r="5.5"/><circle cx="649.6" cy="2054.2" r="5.5"/><circle cx="648.7" cy="2063" r="5.5"/><circle cx="650.5" cy="2069.6" r="5.5"/><polygon points="915.1,1866.6 909.9,1890.4 921.3,1888.8 932,1874.9 932.3,1874.6 932.6,1874.3 932.9,1874.1 933.2,1873.9 933.5,1873.7 933.9,1873.5 934.2,1873.4 949.5,1869.9 950,1869.9 950.4,1869.9 958.9,1869.9 957.1,1855.4 957.1,1855 957.1,1854.6 957.1,1854.2 957.2,1853.8 957.3,1853.4 957.5,1853.1 957.7,1852.8 957.9,1852.4 958.2,1852.2 958.5,1851.9 981.6,1833.4 981.8,1833.2 967,1835.2 946.6,1848.8 946.2,1849 925.4,1859.4" stroke="#dc143c" stroke-width="2" stroke-linejoin="round"/><circle cx="916.8" cy="1867.3" r="5.5"/><circle cx="912.2" cy="1875.4" r="5.5"/><circle cx="910.7" cy="1880.8" r="5.5"/><circle cx="913" cy="1887.9" r="5.5"/><circle cx="917.5" cy="1889.6" r="5.5"/><circle cx="920.5" cy="1888" r="5.5"/><circle cx="927.3" cy="1881.6" r="5.5"/><circle cx="929.4" cy="1876.3" r="5.5"/><circle cx="936.1" cy="1871.3" r="5.5"/><circle cx="943.5" cy="1871" r="5.5"/><circle cx="951.2" cy="1871.2" r="5.5"/><circle cx="957.1" cy="1867.9" r="5.5"/><circle cx="958.6" cy="1864.2" r="5.5"/><circle cx="958.4" cy="1858.4" r="5.5"/><circle cx="960.7" cy="1851.6" r="5.5"/><circle cx="965.2" cy="1846.1" r="5.5"/><circle cx="970.5" cy="1840" r="5.5"/><circle cx="975.3" cy="1839.5" r="5.5"/><circle cx="981" cy="1834.3" r="5.5"/><circle cx="973.4" cy="1834.8" r="5.5"/><circle cx="969.1" cy="1834" r="5.5"/><circle cx="962.9" cy="1838.3" r="5.5"/><circle cx="957.8" cy="1843.9" r="5.5"/><circle cx="950.4" cy="1845.6" r="5.5"/><circle cx="944.3" cy="1849.2" r="5.5"/><circle cx="936.8" cy="1852.9" r="5.5"/><circle cx="931.1" cy="1854.8" r="5.5"/><circle cx="926.7" cy="1860.9" r="5.5"/><circle cx="919.5" cy="1861.8" r="5.5"/><circle cx="621.1" cy="2085.8" r="5.5"/><circle cx="629.3" cy="2065.9" r="5.5"/><circle cx="634" cy="2054.2" r="5.5"/><circle cx="637.5" cy="2044.8" r="5.5"/><circle cx="653.9" cy="2027.3" r="5.5"/><circle cx="660.9" cy="2075.3" r="5.5"/><circle cx="701.9" cy="2075.3" r="5.5"/><circle cx="721.8" cy="2064.7" r="5.5"/><circle cx="733.5" cy="2056.5" r="5.5"/><circle cx="745.2" cy="2053" r="5.5"/><circle cx="710.1" cy="2060" r="5.5"/><circle cx="796.7" cy="2013.2" r="5.5"/><circle cx="813.1" cy="1986.3" r="5.5"/><circle cx="862.3" cy="1967.5" r="5.5"/><circle cx="871.7" cy="1960.5" r="5.5"/><circle cx="908" cy="1939.4" r="5.5"/><circle cx="906.8" cy="1916" r="5.5"/><circle cx="941.9" cy="1904.3" r="5.5"/><circle cx="953.6" cy="1898.5" r="5.5"/><circle cx="939.6" cy="1887.9" r="5.5"/><circle cx="923.2" cy="1841.1" r="5.5"/><circle cx="833" cy="1878.5" r="5.5"/><circle cx="836.5" cy="1887.9" r="5.5"/><circle cx="774.5" cy="1928.9" r="5.5"/><circle cx="724.1" cy="1969.9" r="5.5"/><circle cx="684.3" cy="2010.9" r="5.5"/><circle cx="697.2" cy="1999.2" r="5.5"/><circle cx="717.1" cy="1985.1" r="5.5"/><circle cx="752.2" cy="1962.9" r="5.5"/><circle cx="763.9" cy="1953.5" r="5.5"/><circle cx="789.7" cy="1930.1" r="5.5"/><circle cx="913.8" cy="1897.3" r="5.5"/><circle cx="958.3" cy="1869.2" r="5.5"/><circle cx="923.4" cy="1840.3" r="5.5"/><circle cx="939.8" cy="1887.7" r="5.5"/><circle cx="954.4" cy="1897.1" r="5.5"/><circle cx="526.6" cy="2042.8" r="5.5"/><circle cx="593.3" cy="2049.6" r="5.5"/><circle cx="620.2" cy="2086.6" r="5.5"/><circle cx="628.4" cy="2066.7" r="5.5"/><circle cx="633.1" cy="2054.9" r="5.5"/><circle cx="637.8" cy="2044.4" r="5.5"/><circle cx="644.8" cy="2073.7" r="5.5"/><circle cx="661.2" cy="2076" r="5.5"/><circle cx="702.2" cy="2076" r="5.5"/><circle cx="722.1" cy="2065.5" r="5.5"/><circle cx="732.6" cy="2057.3" r="5.5"/><circle cx="744.4" cy="2053.8" r="5.5"/><circle cx="710.4" cy="2060.8" r="5.5"/><circle cx="699.9" cy="2064.3" r="5.5"/><circle cx="797" cy="2014" r="5.5"/><circle cx="813.4" cy="1987" r="5.5"/><circle cx="697.5" cy="1999.9" r="5.5"/><circle cx="683.5" cy="2011.6" r="5.5"/><circle cx="654.2" cy="2029.2" r="5.5"/><circle cx="658.9" cy="2033.9" r="5.5"/><circle cx="644.8" cy="2059.6" r="5.5"/><circle cx="661.2" cy="2050.3" r="5.5"/><circle cx="1162.3" cy="1670.5" r="5.5"/><circle cx="1126.2" cy="1718" r="5.5"/><circle cx="1134.4" cy="1713.1" r="5.5"/><circle cx="1144.3" cy="1706.6" r="5.5"/><circle cx="1157.4" cy="1698.4" r="5.5"/><circle cx="1167.2" cy="1688.5" r="5.5"/><circle cx="1175.4" cy="1678.7" r="5.5"/><circle cx="1186.9" cy="1686.9" r="5.5"/><circle cx="1172.1" cy="1695.1" r="5.5"/><circle cx="1147.5" cy="1708.2" r="5.5"/><circle cx="1184.3" cy="1834.7" r="5.5"/><circle cx="1130" cy="1716" r="5.5"/><circle cx="1139" cy="1710" r="5.5"/><circle cx="1152" cy="1702" r="5.5"/><circle cx="1162" cy="1693" r="5.5"/><circle cx="1170" cy="1686" r="5.5"/><circle cx="1180" cy="1682" r="5.5"/></g><line x1="603.8" y1="2106.5" x2="1196.7" y2="1669.7" stroke="#2318c4" stroke-width="2.2" clip-path="url(#cg)"/><path d="M501.8 2106.5v3.2M519.2 2106.5v3.2M531.6 2106.5v3.2M541.2 2106.5v3.2M549 2106.5v3.2M555.7 2106.5v3.2M561.4 2106.5v3.2M566.5 2106.5v3.2M571 2106.5v5.5M600.8 2106.5v3.2M618.2 2106.5v3.2M492.7 2095.9h-3.2M630.6 2106.5v3.2M492.7 2086.8h-3.2M640.2 2106.5v3.2M492.7 2079.8h-3.2M648 2106.5v3.2M492.7 2074h-3.2M654.7 2106.5v3.2M492.7 2069.2h-3.2M660.4 2106.5v3.2M492.7 2064.9h-3.2M665.5 2106.5v3.2M492.7 2061.2h-3.2M670 2106.5v5.5M492.7 2057.9h-5.5M699.8 2106.5v3.2M492.7 2036h-3.2M717.2 2106.5v3.2M492.7 2023.2h-3.2M729.6 2106.5v3.2M492.7 2014.1h-3.2M739.2 2106.5v3.2M492.7 2007.1h-3.2M747 2106.5v3.2M492.7 2001.3h-3.2M753.7 2106.5v3.2M492.7 1996.5h-3.2M759.4 2106.5v3.2M492.7 1992.2h-3.2M764.5 2106.5v3.2M492.7 1988.5h-3.2M769 2106.5v5.5M492.7 1985.2h-5.5M798.8 2106.5v3.2M492.7 1963.3h-3.2M816.2 2106.5v3.2M492.7 1950.5h-3.2M828.6 2106.5v3.2M492.7 1941.4h-3.2M838.2 2106.5v3.2M492.7 1934.4h-3.2M846 2106.5v3.2M492.7 1928.6h-3.2M852.7 2106.5v3.2M492.7 1923.8h-3.2M858.4 2106.5v3.2M492.7 1919.5h-3.2M863.5 2106.5v3.2M492.7 1915.8h-3.2M868 2106.5v5.5M492.7 1912.5h-5.5M897.8 2106.5v3.2M492.7 1890.6h-3.2M915.2 2106.5v3.2M492.7 1877.8h-3.2M927.6 2106.5v3.2M492.7 1868.7h-3.2M937.2 2106.5v3.2M492.7 1861.7h-3.2M945 2106.5v3.2M492.7 1855.9h-3.2M951.7 2106.5v3.2M492.7 1851.1h-3.2M957.4 2106.5v3.2M492.7 1846.8h-3.2M962.5 2106.5v3.2M492.7 1843.1h-3.2M967 2106.5v5.5M492.7 1839.8h-5.5M996.8 2106.5v3.2M492.7 1817.9h-3.2M1014.2 2106.5v3.2M492.7 1805.1h-3.2M1026.6 2106.5v3.2M492.7 1796h-3.2M1036.2 2106.5v3.2M492.7 1789h-3.2M1044 2106.5v3.2M492.7 1783.2h-3.2M1050.7 2106.5v3.2M492.7 1778.4h-3.2M1056.4 2106.5v3.2M492.7 1774.1h-3.2M1061.5 2106.5v3.2M492.7 1770.4h-3.2M1066 2106.5v5.5M492.7 1767.1h-5.5M1095.8 2106.5v3.2M492.7 1745.2h-3.2M1113.2 2106.5v3.2M492.7 1732.4h-3.2M1125.6 2106.5v3.2M492.7 1723.3h-3.2M1135.2 2106.5v3.2M492.7 1716.3h-3.2M1143 2106.5v3.2M492.7 1710.5h-3.2M1149.7 2106.5v3.2M492.7 1705.7h-3.2M1155.4 2106.5v3.2M492.7 1701.4h-3.2M1160.5 2106.5v3.2M492.7 1697.7h-3.2M1165 2106.5v5.5M492.7 1694.4h-5.5M1194.8 2106.5v3.2M492.7 1672.5h-3.2M1212.2 2106.5v3.2M492.7 1659.7h-3.2M1224.6 2106.5v3.2M492.7 1650.6h-3.2" stroke="#444" stroke-width="1.3" fill="none"/><rect x="492.7" y="1649.6" width="737.3" height="456.9" fill="none" stroke="#555" stroke-width="2"/><text x="571" y="2134.5" text-anchor="middle">10<tspan font-size="11.5" dy="-5.5">−2</tspan></text><text x="670" y="2134.5" text-anchor="middle">10<tspan font-size="11.5" dy="-5.5">−1</tspan></text><text x="769" y="2134.5" text-anchor="middle">10<tspan font-size="11.5" dy="-5.5">0</tspan></text><text x="868" y="2134.5" text-anchor="middle">10<tspan font-size="11.5" dy="-5.5">1</tspan></text><text x="967" y="2134.5" text-anchor="middle">10<tspan font-size="11.5" dy="-5.5">2</tspan></text><text x="1066" y="2134.5" text-anchor="middle">10<tspan font-size="11.5" dy="-5.5">3</tspan></text><text x="1165" y="2134.5" text-anchor="middle">10<tspan font-size="11.5" dy="-5.5">4</tspan></text><text x="479.7" y="2064.7" text-anchor="end">10<tspan font-size="11.5" dy="-5.5">−1</tspan></text><text x="479.7" y="1992" text-anchor="end">10<tspan font-size="11.5" dy="-5.5">0</tspan></text><text x="479.7" y="1919.2" text-anchor="end">10<tspan font-size="11.5" dy="-5.5">1</tspan></text><text x="479.7" y="1846.5" text-anchor="end">10<tspan font-size="11.5" dy="-5.5">2</tspan></text><text x="479.7" y="1773.8" text-anchor="end">10<tspan font-size="11.5" dy="-5.5">3</tspan></text><text x="479.7" y="1701.2" text-anchor="end">10<tspan font-size="11.5" dy="-5.5">4</tspan></text></g>
<text x="861.4" y="1639.4" text-anchor="middle" font-family="'DejaVu Sans', 'Liberation Sans', sans-serif" font-size="25.0" fill="#1a1a1a">Stacking Ensemble</text>
<text x="861.4" y="2165" text-anchor="middle" font-family="'DejaVu Sans', 'Liberation Sans', sans-serif" font-size="25" fill="#1a1a1a">Actual Values</text>
<text transform="translate(429.6,1878) rotate(-90)" text-anchor="middle" font-family="'DejaVu Sans', 'Liberation Sans', sans-serif" font-size="25" fill="#1a1a1a">Predicted Values</text>
<text x="360.2" y="1723.4" font-family="'Liberation Sans', Arial, sans-serif" font-size="25.5" fill="#111">g)</text>
</svg>
</body></html>
